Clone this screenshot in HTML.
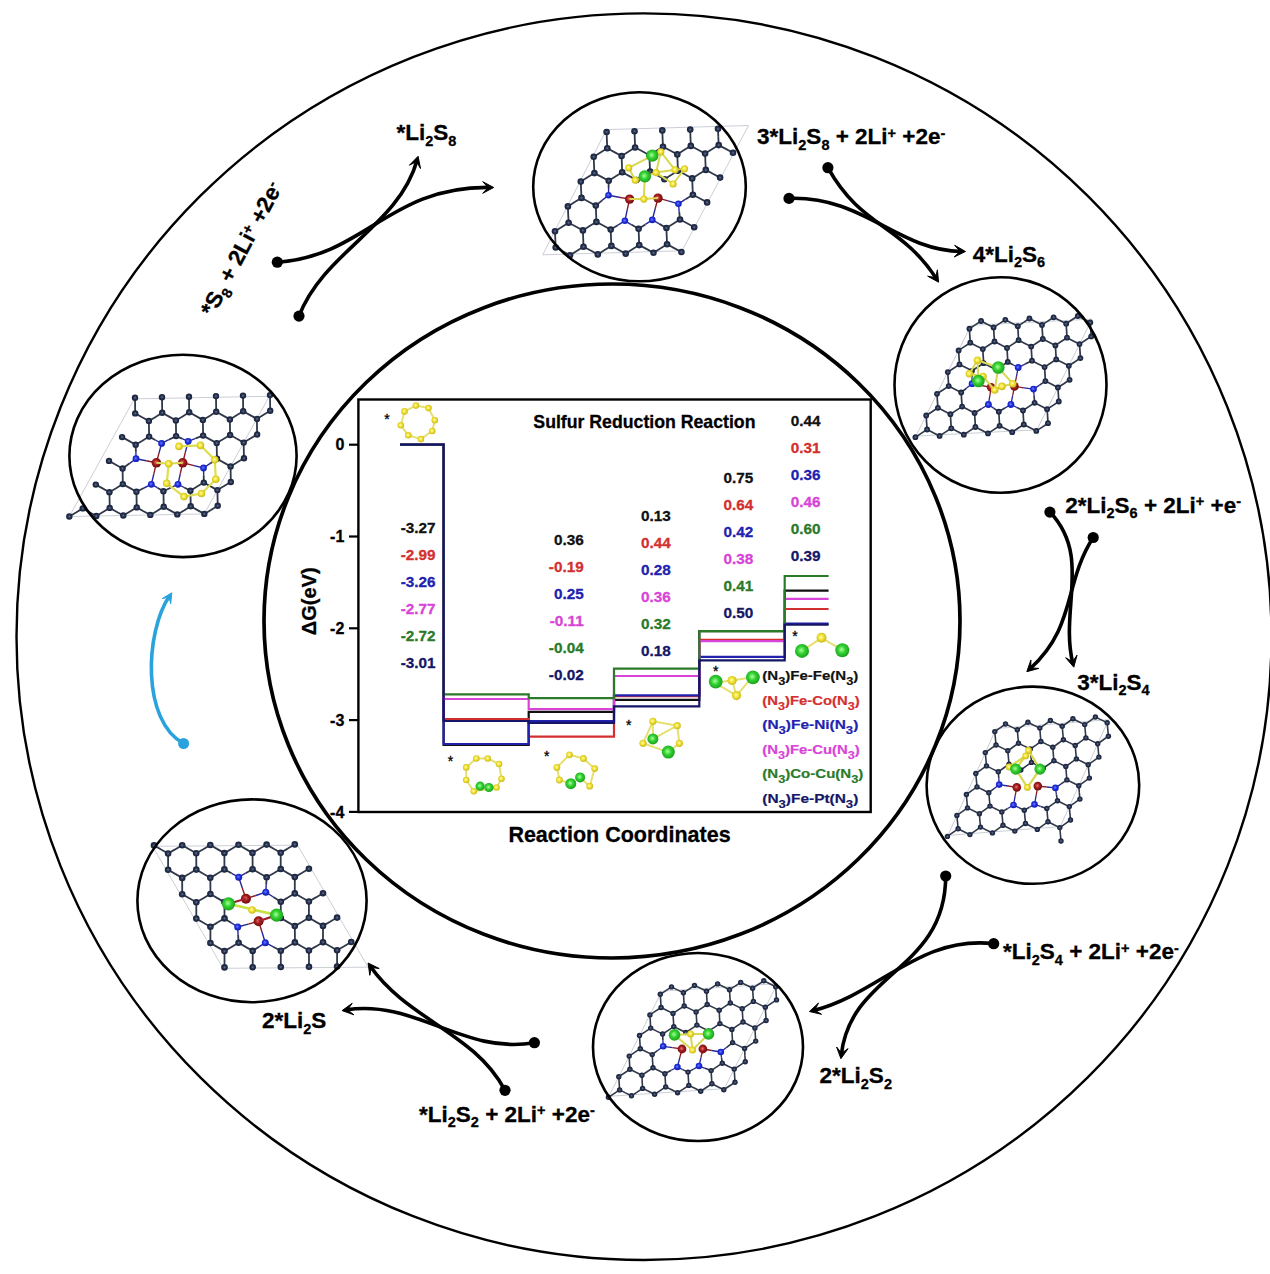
<!DOCTYPE html><html><head><meta charset="utf-8"><style>html,body{margin:0;padding:0;background:#fff;overflow:hidden}svg{display:block}text{font-family:"Liberation Sans", sans-serif;font-weight:bold;stroke:#000;stroke-width:0.3px}</style></head><body>
<svg width="1270" height="1274" viewBox="0 0 1270 1274">
<defs><radialGradient id="gc" cx="0.5" cy="0.5" r="0.5"><stop offset="0" stop-color="#6a7898"/><stop offset="0.45" stop-color="#26324f"/><stop offset="1" stop-color="#18213a"/></radialGradient><radialGradient id="gn" cx="0.45" cy="0.45" r="0.55"><stop offset="0" stop-color="#7080ff"/><stop offset="0.5" stop-color="#1e2ee0"/><stop offset="1" stop-color="#1420a8"/></radialGradient><radialGradient id="gfe" cx="0.45" cy="0.45" r="0.55"><stop offset="0" stop-color="#f07070"/><stop offset="0.5" stop-color="#a01a1a"/><stop offset="1" stop-color="#701010"/></radialGradient><radialGradient id="gli" cx="0.45" cy="0.45" r="0.55"><stop offset="0" stop-color="#a8ff98"/><stop offset="0.5" stop-color="#30d030"/><stop offset="1" stop-color="#1fa01f"/></radialGradient><radialGradient id="gs" cx="0.45" cy="0.45" r="0.55"><stop offset="0" stop-color="#ffffb0"/><stop offset="0.5" stop-color="#f0e030"/><stop offset="1" stop-color="#c8b820"/></radialGradient></defs>
<rect width="1270" height="1274" fill="#fff"/>
<polygon points="606.5,129.6 748.5,125.5 682.0,250.8 542.7,254.8" fill="none" stroke="#c4c8d0" stroke-width="0.9"/>
<path d="M606.6 132.0L606.9 140.1M606.9 140.1L607.3 148.3M593.7 156.8L600.5 152.5M600.5 152.5L607.3 148.3M593.7 156.8L594.0 164.9M594.0 164.9L594.4 173.1M580.8 181.6L587.6 177.3M587.6 177.3L594.4 173.1M580.8 181.6L581.1 189.7M581.1 189.7L581.5 197.9M567.9 206.4L574.7 202.1M574.7 202.1L581.5 197.9M567.9 206.4L568.2 214.5M568.2 214.5L568.6 222.7M555.0 231.2L561.8 226.9M561.8 226.9L568.6 222.7M555.0 231.2L555.3 239.3M555.3 239.3L555.7 247.5M634.5 131.2L634.8 139.3M634.8 139.3L635.1 147.5M621.6 156.0L614.4 152.1M614.4 152.1L607.3 148.3M621.6 156.0L628.3 151.7M628.3 151.7L635.1 147.5M621.6 156.0L621.9 164.1M621.9 164.1L622.2 172.3M608.7 180.8L601.5 176.9M601.5 176.9L594.4 173.1M608.7 180.8L615.4 176.5M615.4 176.5L622.2 172.3M608.7 180.8L608.6 188.1M595.8 205.6L588.6 201.7M588.6 201.7L581.5 197.9M595.8 205.6L602.1 200.4M595.8 205.6L596.1 213.7M596.1 213.7L596.4 221.9M582.9 230.4L575.7 226.5M575.7 226.5L568.6 222.7M582.9 230.4L589.6 226.1M589.6 226.1L596.4 221.9M582.9 230.4L583.2 238.5M583.2 238.5L583.5 246.7M570.0 255.2L562.8 251.3M562.8 251.3L555.7 247.5M570.0 255.2L576.7 250.9M576.7 250.9L583.5 246.7M662.3 130.4L662.6 138.5M662.6 138.5L663.0 146.7M649.4 155.2L642.3 151.3M642.3 151.3L635.1 147.5M649.4 155.2L656.2 150.9M656.2 150.9L663.0 146.7M649.4 155.2L649.7 163.3M649.7 163.3L650.1 171.5M636.5 180.0L629.4 176.1M629.4 176.1L622.2 172.3M636.5 180.0L643.3 175.7M643.3 175.7L650.1 171.5M610.7 229.6L603.6 225.7M603.6 225.7L596.4 221.9M610.7 229.6L617.8 225.2M610.7 229.6L611.0 237.7M611.0 237.7L611.4 245.9M597.8 254.4L590.7 250.5M590.7 250.5L583.5 246.7M597.8 254.4L604.6 250.1M604.6 250.1L611.4 245.9M690.2 129.6L690.5 137.7M690.5 137.7L690.8 145.9M677.3 154.4L670.1 150.5M670.1 150.5L663.0 146.7M677.3 154.4L684.0 150.1M684.0 150.1L690.8 145.9M677.3 154.4L677.6 162.5M677.6 162.5L677.9 170.7M664.4 179.2L657.2 175.3M657.2 175.3L650.1 171.5M664.4 179.2L671.1 174.9M671.1 174.9L677.9 170.7M638.6 228.8L631.7 224.8M638.6 228.8L645.4 224.4M638.6 228.8L638.9 236.9M638.9 236.9L639.2 245.1M625.7 253.6L618.5 249.7M618.5 249.7L611.4 245.9M625.7 253.6L632.4 249.3M632.4 249.3L639.2 245.1M718.0 128.8L718.3 136.9M718.3 136.9L718.7 145.1M705.1 153.6L698.0 149.7M698.0 149.7L690.8 145.9M705.1 153.6L711.9 149.3M711.9 149.3L718.7 145.1M705.1 153.6L705.4 161.7M705.4 161.7L705.8 169.9M692.2 178.4L685.1 174.5M685.1 174.5L677.9 170.7M692.2 178.4L699.0 174.1M699.0 174.1L705.8 169.9M692.2 178.4L692.5 186.5M692.5 186.5L692.9 194.7M685.6 199.2L692.9 194.7M679.2 211.6L680.0 219.5M666.4 228.0L659.3 223.9M666.4 228.0L673.2 223.7M673.2 223.7L680.0 219.5M666.4 228.0L666.7 236.1M666.7 236.1L667.1 244.3M653.5 252.8L646.4 248.9M646.4 248.9L639.2 245.1M653.5 252.8L660.3 248.5M660.3 248.5L667.1 244.3M733.0 152.8L725.8 148.9M725.8 148.9L718.7 145.1M720.1 177.6L712.9 173.7M712.9 173.7L705.8 169.9M707.1 202.4L700.0 198.5M700.0 198.5L692.9 194.7M694.2 227.2L687.1 223.3M687.1 223.3L680.0 219.5M681.4 252.0L674.2 248.1M674.2 248.1L667.1 244.3" stroke="#303849" stroke-width="1.8" fill="none"/>
<path d="M608.6 188.1L608.5 195.3M602.1 200.4L608.5 195.3M617.8 225.2L624.9 220.8M631.7 224.8L624.9 220.8M645.4 224.4L652.3 219.9M678.4 203.8L685.6 199.2M678.4 203.8L679.2 211.6M659.3 223.9L652.3 219.9M619.0 197.2L608.5 195.3M627.2 209.9L624.9 220.8M668.2 200.9L678.4 203.8M655.1 209.0L652.3 219.9" stroke="#24289a" stroke-width="1.4" fill="none"/>
<path d="M629.6 199.1L619.0 197.2M629.6 199.1L627.2 209.9M658.0 198.1L668.2 200.9M658.0 198.1L655.1 209.0" stroke="#8a1c22" stroke-width="1.4" fill="none"/>
<circle cx="606.6" cy="132.0" r="3.3" fill="url(#gc)"/><circle cx="593.7" cy="156.8" r="3.3" fill="url(#gc)"/><circle cx="580.8" cy="181.6" r="3.3" fill="url(#gc)"/><circle cx="567.9" cy="206.4" r="3.3" fill="url(#gc)"/><circle cx="555.0" cy="231.2" r="3.3" fill="url(#gc)"/><circle cx="634.5" cy="131.2" r="3.3" fill="url(#gc)"/><circle cx="621.6" cy="156.0" r="3.3" fill="url(#gc)"/><circle cx="608.7" cy="180.8" r="3.3" fill="url(#gc)"/><circle cx="595.8" cy="205.6" r="3.3" fill="url(#gc)"/><circle cx="582.9" cy="230.4" r="3.3" fill="url(#gc)"/><circle cx="570.0" cy="255.2" r="3.3" fill="url(#gc)"/><circle cx="662.3" cy="130.4" r="3.3" fill="url(#gc)"/><circle cx="649.4" cy="155.2" r="3.3" fill="url(#gc)"/><circle cx="636.5" cy="180.0" r="3.3" fill="url(#gc)"/><circle cx="610.7" cy="229.6" r="3.3" fill="url(#gc)"/><circle cx="597.8" cy="254.4" r="3.3" fill="url(#gc)"/><circle cx="690.2" cy="129.6" r="3.3" fill="url(#gc)"/><circle cx="677.3" cy="154.4" r="3.3" fill="url(#gc)"/><circle cx="664.4" cy="179.2" r="3.3" fill="url(#gc)"/><circle cx="638.6" cy="228.8" r="3.3" fill="url(#gc)"/><circle cx="625.7" cy="253.6" r="3.3" fill="url(#gc)"/><circle cx="718.0" cy="128.8" r="3.3" fill="url(#gc)"/><circle cx="705.1" cy="153.6" r="3.3" fill="url(#gc)"/><circle cx="692.2" cy="178.4" r="3.3" fill="url(#gc)"/><circle cx="666.4" cy="228.0" r="3.3" fill="url(#gc)"/><circle cx="653.5" cy="252.8" r="3.3" fill="url(#gc)"/><circle cx="733.0" cy="152.8" r="3.3" fill="url(#gc)"/><circle cx="720.1" cy="177.6" r="3.3" fill="url(#gc)"/><circle cx="707.1" cy="202.4" r="3.3" fill="url(#gc)"/><circle cx="694.2" cy="227.2" r="3.3" fill="url(#gc)"/><circle cx="681.4" cy="252.0" r="3.3" fill="url(#gc)"/><circle cx="607.3" cy="148.3" r="3.3" fill="url(#gc)"/><circle cx="594.4" cy="173.1" r="3.3" fill="url(#gc)"/><circle cx="581.5" cy="197.9" r="3.3" fill="url(#gc)"/><circle cx="568.6" cy="222.7" r="3.3" fill="url(#gc)"/><circle cx="555.7" cy="247.5" r="3.3" fill="url(#gc)"/><circle cx="635.1" cy="147.5" r="3.3" fill="url(#gc)"/><circle cx="622.2" cy="172.3" r="3.3" fill="url(#gc)"/><circle cx="596.4" cy="221.9" r="3.3" fill="url(#gc)"/><circle cx="583.5" cy="246.7" r="3.3" fill="url(#gc)"/><circle cx="663.0" cy="146.7" r="3.3" fill="url(#gc)"/><circle cx="650.1" cy="171.5" r="3.3" fill="url(#gc)"/><circle cx="611.4" cy="245.9" r="3.3" fill="url(#gc)"/><circle cx="690.8" cy="145.9" r="3.3" fill="url(#gc)"/><circle cx="677.9" cy="170.7" r="3.3" fill="url(#gc)"/><circle cx="639.2" cy="245.1" r="3.3" fill="url(#gc)"/><circle cx="718.7" cy="145.1" r="3.3" fill="url(#gc)"/><circle cx="705.8" cy="169.9" r="3.3" fill="url(#gc)"/><circle cx="692.9" cy="194.7" r="3.3" fill="url(#gc)"/><circle cx="680.0" cy="219.5" r="3.3" fill="url(#gc)"/><circle cx="667.1" cy="244.3" r="3.3" fill="url(#gc)"/><circle cx="678.4" cy="203.8" r="3.3" fill="url(#gn)"/><circle cx="608.5" cy="195.3" r="3.3" fill="url(#gn)"/><circle cx="624.9" cy="220.8" r="3.3" fill="url(#gn)"/><circle cx="652.3" cy="219.9" r="3.3" fill="url(#gn)"/><circle cx="629.6" cy="199.1" r="4.7" fill="url(#gfe)"/><circle cx="658.0" cy="198.1" r="4.7" fill="url(#gfe)"/>
<path d="M629.6 199.1L643.8 199.1M658.0 198.1L643.8 199.1" stroke="#d8d850" stroke-width="2.0" fill="none"/>
<path d="M628.7 167.9L635.3 180.2M635.3 180.2L644.8 176.4M644.8 176.4L656.1 172.6M656.1 172.6L660.8 151.8M660.8 151.8L652.3 155.6M652.3 155.6L628.7 167.9M656.1 172.6L675.0 169.8M675.0 169.8L684.5 168.8M684.5 168.8L673.1 184.0M673.1 184.0L656.1 172.6M660.8 151.8L675.0 169.8M644.8 176.4L643.8 199.1" stroke="#d8d850" stroke-width="2.0" fill="none"/>
<circle cx="660.8" cy="151.8" r="3.6" fill="url(#gs)"/><circle cx="628.7" cy="167.9" r="3.6" fill="url(#gs)"/><circle cx="635.3" cy="180.2" r="3.6" fill="url(#gs)"/><circle cx="656.1" cy="172.6" r="3.6" fill="url(#gs)"/><circle cx="675.0" cy="169.8" r="3.6" fill="url(#gs)"/><circle cx="684.5" cy="168.8" r="3.6" fill="url(#gs)"/><circle cx="673.1" cy="184.0" r="3.6" fill="url(#gs)"/><circle cx="643.8" cy="199.1" r="3.6" fill="url(#gs)"/><circle cx="652.3" cy="155.6" r="6.2" fill="url(#gli)"/><circle cx="644.8" cy="176.4" r="6.2" fill="url(#gli)"/>
<polygon points="971.0,325.4 1092.0,319.1 1036.9,429.8 915.9,436.1" fill="none" stroke="#c4c8d0" stroke-width="0.9"/>
<path d="M969.4 328.7L975.2 324.9M975.2 324.9L981.1 321.0M969.4 328.7L969.8 335.7M969.8 335.7L970.3 342.7M958.6 350.4L964.4 346.6M964.4 346.6L970.3 342.7M958.6 350.4L959.0 357.4M959.0 357.4L959.5 364.4M947.8 372.1L953.6 368.3M953.6 368.3L959.5 364.4M947.8 372.1L948.2 379.1M948.2 379.1L948.7 386.1M937.0 393.8L942.8 390.0M942.8 390.0L948.7 386.1M937.0 393.8L937.4 400.8M937.4 400.8L937.9 407.8M926.2 415.5L932.0 411.7M932.0 411.7L937.9 407.8M926.2 415.5L926.6 422.5M926.6 422.5L927.1 429.5M915.4 437.2L921.2 433.4M921.2 433.4L927.1 429.5M993.6 327.4L987.3 324.2M987.3 324.2L981.1 321.0M993.6 327.4L999.4 323.6M999.4 323.6L1005.3 319.8M993.6 327.4L994.0 334.5M994.0 334.5L994.5 341.5M982.8 349.1L976.5 345.9M976.5 345.9L970.3 342.7M982.8 349.1L988.6 345.3M988.6 345.3L994.5 341.5M982.8 349.1L983.2 356.2M983.2 356.2L983.7 363.2M972.0 370.8L965.7 367.6M965.7 367.6L959.5 364.4M972.0 370.8L977.8 367.0M977.8 367.0L983.7 363.2M972.0 370.8L972.0 377.3M961.2 392.5L954.9 389.3M954.9 389.3L948.7 386.1M961.2 392.5L966.6 388.1M961.2 392.5L961.6 399.6M961.6 399.6L962.1 406.6M950.4 414.2L944.1 411.0M944.1 411.0L937.9 407.8M950.4 414.2L956.2 410.4M956.2 410.4L962.1 406.6M950.4 414.2L950.8 421.3M950.8 421.3L951.3 428.3M939.6 435.9L933.3 432.7M933.3 432.7L927.1 429.5M939.6 435.9L945.4 432.1M945.4 432.1L951.3 428.3M1017.8 326.2L1011.5 323.0M1011.5 323.0L1005.3 319.8M1017.8 326.2L1023.6 322.4M1023.6 322.4L1029.4 318.5M1017.8 326.2L1018.2 333.2M1018.2 333.2L1018.6 340.2M1007.0 347.9L1000.7 344.7M1000.7 344.7L994.5 341.5M1007.0 347.9L1012.8 344.1M1012.8 344.1L1018.6 340.2M1007.0 347.9L1007.4 354.9M1007.4 354.9L1007.8 361.9M996.2 369.6L989.9 366.4M989.9 366.4L983.7 363.2M996.2 369.6L1002.0 365.8M1002.0 365.8L1007.8 361.9M974.6 413.0L968.3 409.8M968.3 409.8L962.1 406.6M974.6 413.0L981.5 408.7M974.6 413.0L975.0 420.0M975.0 420.0L975.4 427.0M963.8 434.7L957.5 431.5M957.5 431.5L951.3 428.3M963.8 434.7L969.6 430.9M969.6 430.9L975.4 427.0M1042.0 324.9L1035.7 321.7M1035.7 321.7L1029.4 318.5M1042.0 324.9L1047.8 321.1M1047.8 321.1L1053.6 317.3M1042.0 324.9L1042.4 331.9M1042.4 331.9L1042.8 339.0M1031.2 346.6L1024.9 343.4M1024.9 343.4L1018.6 340.2M1031.2 346.6L1037.0 342.8M1037.0 342.8L1042.8 339.0M1031.2 346.6L1031.6 353.6M1031.6 353.6L1032.0 360.7M1013.0 364.7L1007.8 361.9M1025.1 364.1L1032.0 360.7M998.8 411.7L993.6 408.1M998.8 411.7L1004.8 408.1M998.8 411.7L999.2 418.7M999.2 418.7L999.6 425.8M988.0 433.4L981.7 430.2M981.7 430.2L975.4 427.0M988.0 433.4L993.8 429.6M993.8 429.6L999.6 425.8M1066.2 323.7L1059.9 320.5M1059.9 320.5L1053.6 317.3M1066.2 323.7L1072.0 319.8M1072.0 319.8L1077.8 316.0M1066.2 323.7L1066.6 330.7M1066.6 330.7L1067.0 337.7M1055.4 345.4L1049.1 342.2M1049.1 342.2L1042.8 339.0M1055.4 345.4L1061.2 341.5M1061.2 341.5L1067.0 337.7M1055.4 345.4L1055.8 352.4M1055.8 352.4L1056.2 359.4M1044.6 367.1L1038.3 363.9M1038.3 363.9L1032.0 360.7M1044.6 367.1L1050.4 363.2M1050.4 363.2L1056.2 359.4M1044.6 367.1L1045.0 374.1M1045.0 374.1L1045.4 381.1M1039.5 385.1L1045.4 381.1M1034.1 396.0L1034.6 402.8M1023.0 410.5L1016.9 407.5M1023.0 410.5L1028.8 406.6M1028.8 406.6L1034.6 402.8M1023.0 410.5L1023.4 417.5M1023.4 417.5L1023.8 424.5M1012.2 432.2L1005.9 429.0M1005.9 429.0L999.6 425.8M1012.2 432.2L1018.0 428.3M1018.0 428.3L1023.8 424.5M1090.3 322.4L1084.1 319.2M1084.1 319.2L1077.8 316.0M1090.3 322.4L1090.8 329.4M1090.8 329.4L1091.2 336.4M1079.5 344.1L1073.3 340.9M1073.3 340.9L1067.0 337.7M1079.5 344.1L1085.4 340.3M1085.4 340.3L1091.2 336.4M1079.5 344.1L1080.0 351.1M1080.0 351.1L1080.4 358.1M1068.8 365.8L1062.5 362.6M1062.5 362.6L1056.2 359.4M1068.8 365.8L1074.6 362.0M1074.6 362.0L1080.4 358.1M1068.8 365.8L1069.2 372.8M1069.2 372.8L1069.6 379.8M1057.9 387.5L1051.7 384.3M1051.7 384.3L1045.4 381.1M1057.9 387.5L1063.8 383.7M1063.8 383.7L1069.6 379.8M1057.9 387.5L1058.4 394.5M1058.4 394.5L1058.8 401.5M1047.1 409.2L1040.9 406.0M1040.9 406.0L1034.6 402.8M1047.1 409.2L1053.0 405.4M1053.0 405.4L1058.8 401.5M1047.1 409.2L1047.6 416.2M1047.6 416.2L1048.0 423.2M1036.3 430.9L1030.1 427.7M1030.1 427.7L1023.8 424.5M1036.3 430.9L1042.2 427.1M1042.2 427.1L1048.0 423.2" stroke="#303849" stroke-width="1.7" fill="none"/>
<path d="M972.0 377.3L972.1 383.7M966.6 388.1L972.1 383.7M981.5 408.7L988.4 404.5M1018.2 367.5L1013.0 364.7M1018.2 367.5L1025.1 364.1M993.6 408.1L988.4 404.5M1004.8 408.1L1010.9 404.5M1033.5 389.1L1039.5 385.1M1033.5 389.1L1034.1 396.0M1016.9 407.5L1010.9 404.5M981.6 385.5L972.1 383.7M989.8 395.9L988.4 404.5M1016.4 376.9L1018.2 367.5M1024.0 387.8L1033.5 389.1M1012.7 395.4L1010.9 404.5" stroke="#24289a" stroke-width="1.3" fill="none"/>
<path d="M991.1 387.3L981.6 385.5M991.1 387.3L989.8 395.9M1014.5 386.4L1016.4 376.9M1014.5 386.4L1024.0 387.8M1014.5 386.4L1012.7 395.4" stroke="#8a1c22" stroke-width="1.3" fill="none"/>
<circle cx="969.4" cy="328.7" r="2.9" fill="url(#gc)"/><circle cx="958.6" cy="350.4" r="2.9" fill="url(#gc)"/><circle cx="947.8" cy="372.1" r="2.9" fill="url(#gc)"/><circle cx="937.0" cy="393.8" r="2.9" fill="url(#gc)"/><circle cx="926.2" cy="415.5" r="2.9" fill="url(#gc)"/><circle cx="915.4" cy="437.2" r="2.9" fill="url(#gc)"/><circle cx="993.6" cy="327.4" r="2.9" fill="url(#gc)"/><circle cx="982.8" cy="349.1" r="2.9" fill="url(#gc)"/><circle cx="972.0" cy="370.8" r="2.9" fill="url(#gc)"/><circle cx="961.2" cy="392.5" r="2.9" fill="url(#gc)"/><circle cx="950.4" cy="414.2" r="2.9" fill="url(#gc)"/><circle cx="939.6" cy="435.9" r="2.9" fill="url(#gc)"/><circle cx="1017.8" cy="326.2" r="2.9" fill="url(#gc)"/><circle cx="1007.0" cy="347.9" r="2.9" fill="url(#gc)"/><circle cx="996.2" cy="369.6" r="2.9" fill="url(#gc)"/><circle cx="974.6" cy="413.0" r="2.9" fill="url(#gc)"/><circle cx="963.8" cy="434.7" r="2.9" fill="url(#gc)"/><circle cx="1042.0" cy="324.9" r="2.9" fill="url(#gc)"/><circle cx="1031.2" cy="346.6" r="2.9" fill="url(#gc)"/><circle cx="998.8" cy="411.7" r="2.9" fill="url(#gc)"/><circle cx="988.0" cy="433.4" r="2.9" fill="url(#gc)"/><circle cx="1066.2" cy="323.7" r="2.9" fill="url(#gc)"/><circle cx="1055.4" cy="345.4" r="2.9" fill="url(#gc)"/><circle cx="1044.6" cy="367.1" r="2.9" fill="url(#gc)"/><circle cx="1023.0" cy="410.5" r="2.9" fill="url(#gc)"/><circle cx="1012.2" cy="432.2" r="2.9" fill="url(#gc)"/><circle cx="1090.3" cy="322.4" r="2.9" fill="url(#gc)"/><circle cx="1079.5" cy="344.1" r="2.9" fill="url(#gc)"/><circle cx="1068.8" cy="365.8" r="2.9" fill="url(#gc)"/><circle cx="1057.9" cy="387.5" r="2.9" fill="url(#gc)"/><circle cx="1047.1" cy="409.2" r="2.9" fill="url(#gc)"/><circle cx="1036.3" cy="430.9" r="2.9" fill="url(#gc)"/><circle cx="981.1" cy="321.0" r="2.9" fill="url(#gc)"/><circle cx="970.3" cy="342.7" r="2.9" fill="url(#gc)"/><circle cx="959.5" cy="364.4" r="2.9" fill="url(#gc)"/><circle cx="948.7" cy="386.1" r="2.9" fill="url(#gc)"/><circle cx="937.9" cy="407.8" r="2.9" fill="url(#gc)"/><circle cx="927.1" cy="429.5" r="2.9" fill="url(#gc)"/><circle cx="1005.3" cy="319.8" r="2.9" fill="url(#gc)"/><circle cx="994.5" cy="341.5" r="2.9" fill="url(#gc)"/><circle cx="983.7" cy="363.2" r="2.9" fill="url(#gc)"/><circle cx="962.1" cy="406.6" r="2.9" fill="url(#gc)"/><circle cx="951.3" cy="428.3" r="2.9" fill="url(#gc)"/><circle cx="1029.4" cy="318.5" r="2.9" fill="url(#gc)"/><circle cx="1018.6" cy="340.2" r="2.9" fill="url(#gc)"/><circle cx="1007.8" cy="361.9" r="2.9" fill="url(#gc)"/><circle cx="975.4" cy="427.0" r="2.9" fill="url(#gc)"/><circle cx="1053.6" cy="317.3" r="2.9" fill="url(#gc)"/><circle cx="1042.8" cy="339.0" r="2.9" fill="url(#gc)"/><circle cx="1032.0" cy="360.7" r="2.9" fill="url(#gc)"/><circle cx="999.6" cy="425.8" r="2.9" fill="url(#gc)"/><circle cx="1077.8" cy="316.0" r="2.9" fill="url(#gc)"/><circle cx="1067.0" cy="337.7" r="2.9" fill="url(#gc)"/><circle cx="1056.2" cy="359.4" r="2.9" fill="url(#gc)"/><circle cx="1045.4" cy="381.1" r="2.9" fill="url(#gc)"/><circle cx="1034.6" cy="402.8" r="2.9" fill="url(#gc)"/><circle cx="1023.8" cy="424.5" r="2.9" fill="url(#gc)"/><circle cx="1091.2" cy="336.4" r="2.9" fill="url(#gc)"/><circle cx="1080.4" cy="358.1" r="2.9" fill="url(#gc)"/><circle cx="1069.6" cy="379.8" r="2.9" fill="url(#gc)"/><circle cx="1058.8" cy="401.5" r="2.9" fill="url(#gc)"/><circle cx="1048.0" cy="423.2" r="2.9" fill="url(#gc)"/><circle cx="1018.2" cy="367.5" r="3.4" fill="url(#gn)"/><circle cx="1033.5" cy="389.1" r="3.4" fill="url(#gn)"/><circle cx="972.1" cy="383.7" r="3.4" fill="url(#gn)"/><circle cx="988.4" cy="404.5" r="3.4" fill="url(#gn)"/><circle cx="1010.9" cy="404.5" r="3.4" fill="url(#gn)"/><circle cx="991.1" cy="387.3" r="4.3" fill="url(#gfe)"/><circle cx="1014.5" cy="386.4" r="4.3" fill="url(#gfe)"/>
<path d="M977.5 360.3L969.4 373.8M969.4 373.8L983.0 376.5M977.5 360.3L998.3 367.5M998.3 367.5L1012.7 383.7M983.0 376.5L994.7 390.0M994.7 390.0L1001.9 386.4M1001.9 386.4L1012.7 383.7M998.3 367.5L994.7 390.0M978.4 381.0L977.5 360.3" stroke="#d8d850" stroke-width="2.0" fill="none"/>
<circle cx="977.5" cy="360.3" r="3.8" fill="url(#gs)"/><circle cx="969.4" cy="373.8" r="3.8" fill="url(#gs)"/><circle cx="983.0" cy="376.5" r="3.8" fill="url(#gs)"/><circle cx="994.7" cy="390.0" r="3.8" fill="url(#gs)"/><circle cx="1001.9" cy="386.4" r="3.8" fill="url(#gs)"/><circle cx="1012.7" cy="383.7" r="3.8" fill="url(#gs)"/><circle cx="998.3" cy="367.5" r="6.3" fill="url(#gli)"/><circle cx="978.4" cy="381.0" r="6.3" fill="url(#gli)"/>
<polygon points="996.2,728.5 1108.6,719.7 1060.3,826.6 947.9,835.4" fill="none" stroke="#c4c8d0" stroke-width="0.9"/>
<path d="M994.8 731.6L1000.1 727.8M1000.1 727.8L1005.5 724.0M994.8 731.6L995.4 738.3M995.4 738.3L996.0 745.0M985.3 752.6L990.6 748.8M990.6 748.8L996.0 745.0M985.3 752.6L985.9 759.3M985.9 759.3L986.5 765.9M975.8 773.5L981.2 769.7M981.2 769.7L986.5 765.9M975.8 773.5L976.4 780.2M976.4 780.2L977.0 786.9M966.4 794.5L971.7 790.7M971.7 790.7L977.0 786.9M966.4 794.5L966.9 801.2M966.9 801.2L967.5 807.9M956.9 815.4L962.2 811.7M962.2 811.7L967.5 807.9M956.9 815.4L957.5 822.1M957.5 822.1L958.1 828.8M947.4 836.4L952.7 832.6M952.7 832.6L958.1 828.8M1017.3 729.8L1011.4 726.9M1011.4 726.9L1005.5 724.0M1017.3 729.8L1022.6 726.1M1022.6 726.1L1027.9 722.3M1017.3 729.8L1017.9 736.5M1017.9 736.5L1018.5 743.2M1007.8 750.8L1001.9 747.9M1001.9 747.9L996.0 745.0M1007.8 750.8L1013.1 747.0M1013.1 747.0L1018.5 743.2M1007.8 750.8L1008.4 757.5M1008.4 757.5L1009.0 764.2M998.3 771.8L992.4 768.9M992.4 768.9L986.5 765.9M998.3 771.8L1003.6 768.0M1003.6 768.0L1009.0 764.2M998.3 771.8L998.8 778.2M988.8 792.7L982.9 789.8M982.9 789.8L977.0 786.9M988.8 792.7L994.0 788.7M988.8 792.7L989.4 799.4M989.4 799.4L990.0 806.1M979.4 813.7L973.4 810.8M973.4 810.8L967.5 807.9M979.4 813.7L984.7 809.9M984.7 809.9L990.0 806.1M979.4 813.7L979.9 820.4M979.9 820.4L980.5 827.1M969.9 834.6L964.0 831.7M964.0 831.7L958.1 828.8M969.9 834.6L975.2 830.9M975.2 830.9L980.5 827.1M1039.8 728.1L1033.8 725.2M1033.8 725.2L1027.9 722.3M1039.8 728.1L1045.1 724.3M1045.1 724.3L1050.4 720.5M1039.8 728.1L1040.3 734.8M1040.3 734.8L1040.9 741.5M1030.3 749.0L1024.4 746.1M1024.4 746.1L1018.5 743.2M1030.3 749.0L1035.6 745.3M1035.6 745.3L1040.9 741.5M1030.3 749.0L1030.9 755.7M1030.9 755.7L1031.5 762.4M1020.8 770.0L1014.9 767.1M1014.9 767.1L1009.0 764.2M1020.8 770.0L1026.1 766.2M1026.1 766.2L1031.5 762.4M1001.8 811.9L995.9 809.0M995.9 809.0L990.0 806.1M1001.8 811.9L1007.7 808.5M1001.8 811.9L1002.4 818.6M1002.4 818.6L1003.0 825.3M992.4 832.9L986.4 830.0M986.4 830.0L980.5 827.1M992.4 832.9L997.7 829.1M997.7 829.1L1003.0 825.3M1062.2 726.3L1056.3 723.4M1056.3 723.4L1050.4 720.5M1062.2 726.3L1067.6 722.5M1067.6 722.5L1072.9 718.7M1062.2 726.3L1062.8 733.0M1062.8 733.0L1063.4 739.7M1052.8 747.3L1046.8 744.4M1046.8 744.4L1040.9 741.5M1052.8 747.3L1058.1 743.5M1058.1 743.5L1063.4 739.7M1052.8 747.3L1053.3 754.0M1053.3 754.0L1053.9 760.7M1043.3 768.2L1037.4 765.3M1037.4 765.3L1031.5 762.4M1043.3 768.2L1048.6 764.5M1048.6 764.5L1053.9 760.7M1024.3 810.2L1018.9 807.6M1024.3 810.2L1029.4 807.3M1024.3 810.2L1024.9 816.9M1024.9 816.9L1025.5 823.5M1014.8 831.1L1008.9 828.2M1008.9 828.2L1003.0 825.3M1014.8 831.1L1020.2 827.3M1020.2 827.3L1025.5 823.5M1084.7 724.6L1078.8 721.7M1078.8 721.7L1072.9 718.7M1084.7 724.6L1090.0 720.8M1090.0 720.8L1095.4 717.0M1084.7 724.6L1085.3 731.3M1085.3 731.3L1085.9 737.9M1075.2 745.5L1069.3 742.6M1069.3 742.6L1063.4 739.7M1075.2 745.5L1080.6 741.7M1080.6 741.7L1085.9 737.9M1075.2 745.5L1075.8 752.2M1075.8 752.2L1076.4 758.9M1065.8 766.5L1059.8 763.6M1059.8 763.6L1053.9 760.7M1065.8 766.5L1071.1 762.7M1071.1 762.7L1076.4 758.9M1065.8 766.5L1066.3 773.2M1066.3 773.2L1066.9 779.9M1061.2 783.9L1066.9 779.9M1056.4 794.4L1057.5 800.8M1046.8 808.4L1040.7 806.4M1046.8 808.4L1052.1 804.6M1052.1 804.6L1057.5 800.8M1046.8 808.4L1047.4 815.1M1047.4 815.1L1048.0 821.8M1037.3 829.4L1031.4 826.5M1031.4 826.5L1025.5 823.5M1037.3 829.4L1042.6 825.6M1042.6 825.6L1048.0 821.8M1107.2 722.8L1101.3 719.9M1101.3 719.9L1095.4 717.0M1107.2 722.8L1107.8 729.5M1107.8 729.5L1108.4 736.2M1097.7 743.8L1091.8 740.9M1091.8 740.9L1085.9 737.9M1097.7 743.8L1103.0 740.0M1103.0 740.0L1108.4 736.2M1097.7 743.8L1098.3 750.5M1098.3 750.5L1098.9 757.1M1088.2 764.7L1082.3 761.8M1082.3 761.8L1076.4 758.9M1088.2 764.7L1093.6 760.9M1093.6 760.9L1098.9 757.1M1088.2 764.7L1088.8 771.4M1088.8 771.4L1089.4 778.1M1078.8 785.7L1072.8 782.8M1072.8 782.8L1066.9 779.9M1078.8 785.7L1084.1 781.9M1084.1 781.9L1089.4 778.1M1078.8 785.7L1079.3 792.4M1079.3 792.4L1079.9 799.1M1069.3 806.6L1063.4 803.7M1063.4 803.7L1057.5 800.8M1069.3 806.6L1074.6 802.9M1074.6 802.9L1079.9 799.1M1069.3 806.6L1069.9 813.3M1069.9 813.3L1070.5 820.0M1059.8 827.6L1053.9 824.7M1053.9 824.7L1048.0 821.8M1059.8 827.6L1065.1 823.8M1065.1 823.8L1070.5 820.0M1059.8 827.6L1060.4 834.3M1060.4 834.3L1061.0 841.0" stroke="#303849" stroke-width="1.6" fill="none"/>
<path d="M998.8 778.2L999.2 784.6M994.0 788.7L999.2 784.6M1007.7 808.5L1013.5 805.0M1018.9 807.6L1013.5 805.0M1029.4 807.3L1034.5 804.4M1055.4 787.9L1061.2 783.9M1055.4 787.9L1056.4 794.4M1040.7 806.4L1034.5 804.4M1008.0 786.0L999.2 784.6M1015.1 796.2L1013.5 805.0M1046.6 787.0L1055.4 787.9M1036.2 795.2L1034.5 804.4" stroke="#24289a" stroke-width="1.3" fill="none"/>
<path d="M1016.8 787.4L1008.0 786.0M1016.8 787.4L1015.1 796.2M1037.8 786.1L1046.6 787.0M1037.8 786.1L1036.2 795.2" stroke="#8a1c22" stroke-width="1.3" fill="none"/>
<circle cx="994.8" cy="731.6" r="2.7" fill="url(#gc)"/><circle cx="985.3" cy="752.6" r="2.7" fill="url(#gc)"/><circle cx="975.8" cy="773.5" r="2.7" fill="url(#gc)"/><circle cx="966.4" cy="794.5" r="2.7" fill="url(#gc)"/><circle cx="956.9" cy="815.4" r="2.7" fill="url(#gc)"/><circle cx="947.4" cy="836.4" r="2.7" fill="url(#gc)"/><circle cx="1017.3" cy="729.8" r="2.7" fill="url(#gc)"/><circle cx="1007.8" cy="750.8" r="2.7" fill="url(#gc)"/><circle cx="998.3" cy="771.8" r="2.7" fill="url(#gc)"/><circle cx="988.8" cy="792.7" r="2.7" fill="url(#gc)"/><circle cx="979.4" cy="813.7" r="2.7" fill="url(#gc)"/><circle cx="969.9" cy="834.6" r="2.7" fill="url(#gc)"/><circle cx="1039.8" cy="728.1" r="2.7" fill="url(#gc)"/><circle cx="1030.3" cy="749.0" r="2.7" fill="url(#gc)"/><circle cx="1020.8" cy="770.0" r="2.7" fill="url(#gc)"/><circle cx="1001.8" cy="811.9" r="2.7" fill="url(#gc)"/><circle cx="992.4" cy="832.9" r="2.7" fill="url(#gc)"/><circle cx="1062.2" cy="726.3" r="2.7" fill="url(#gc)"/><circle cx="1052.8" cy="747.3" r="2.7" fill="url(#gc)"/><circle cx="1043.3" cy="768.2" r="2.7" fill="url(#gc)"/><circle cx="1024.3" cy="810.2" r="2.7" fill="url(#gc)"/><circle cx="1014.8" cy="831.1" r="2.7" fill="url(#gc)"/><circle cx="1084.7" cy="724.6" r="2.7" fill="url(#gc)"/><circle cx="1075.2" cy="745.5" r="2.7" fill="url(#gc)"/><circle cx="1065.8" cy="766.5" r="2.7" fill="url(#gc)"/><circle cx="1046.8" cy="808.4" r="2.7" fill="url(#gc)"/><circle cx="1037.3" cy="829.4" r="2.7" fill="url(#gc)"/><circle cx="1107.2" cy="722.8" r="2.7" fill="url(#gc)"/><circle cx="1097.7" cy="743.8" r="2.7" fill="url(#gc)"/><circle cx="1088.2" cy="764.7" r="2.7" fill="url(#gc)"/><circle cx="1078.8" cy="785.7" r="2.7" fill="url(#gc)"/><circle cx="1069.3" cy="806.6" r="2.7" fill="url(#gc)"/><circle cx="1059.8" cy="827.6" r="2.7" fill="url(#gc)"/><circle cx="1005.5" cy="724.0" r="2.7" fill="url(#gc)"/><circle cx="996.0" cy="745.0" r="2.7" fill="url(#gc)"/><circle cx="986.5" cy="765.9" r="2.7" fill="url(#gc)"/><circle cx="977.0" cy="786.9" r="2.7" fill="url(#gc)"/><circle cx="967.5" cy="807.9" r="2.7" fill="url(#gc)"/><circle cx="958.1" cy="828.8" r="2.7" fill="url(#gc)"/><circle cx="1027.9" cy="722.3" r="2.7" fill="url(#gc)"/><circle cx="1018.5" cy="743.2" r="2.7" fill="url(#gc)"/><circle cx="1009.0" cy="764.2" r="2.7" fill="url(#gc)"/><circle cx="990.0" cy="806.1" r="2.7" fill="url(#gc)"/><circle cx="980.5" cy="827.1" r="2.7" fill="url(#gc)"/><circle cx="1050.4" cy="720.5" r="2.7" fill="url(#gc)"/><circle cx="1040.9" cy="741.5" r="2.7" fill="url(#gc)"/><circle cx="1031.5" cy="762.4" r="2.7" fill="url(#gc)"/><circle cx="1003.0" cy="825.3" r="2.7" fill="url(#gc)"/><circle cx="1072.9" cy="718.7" r="2.7" fill="url(#gc)"/><circle cx="1063.4" cy="739.7" r="2.7" fill="url(#gc)"/><circle cx="1053.9" cy="760.7" r="2.7" fill="url(#gc)"/><circle cx="1025.5" cy="823.5" r="2.7" fill="url(#gc)"/><circle cx="1095.4" cy="717.0" r="2.7" fill="url(#gc)"/><circle cx="1085.9" cy="737.9" r="2.7" fill="url(#gc)"/><circle cx="1076.4" cy="758.9" r="2.7" fill="url(#gc)"/><circle cx="1066.9" cy="779.9" r="2.7" fill="url(#gc)"/><circle cx="1057.5" cy="800.8" r="2.7" fill="url(#gc)"/><circle cx="1048.0" cy="821.8" r="2.7" fill="url(#gc)"/><circle cx="1108.4" cy="736.2" r="2.7" fill="url(#gc)"/><circle cx="1098.9" cy="757.1" r="2.7" fill="url(#gc)"/><circle cx="1089.4" cy="778.1" r="2.7" fill="url(#gc)"/><circle cx="1079.9" cy="799.1" r="2.7" fill="url(#gc)"/><circle cx="1070.5" cy="820.0" r="2.7" fill="url(#gc)"/><circle cx="1061.0" cy="841.0" r="2.7" fill="url(#gc)"/><circle cx="1055.4" cy="787.9" r="3.3" fill="url(#gn)"/><circle cx="999.2" cy="784.6" r="3.3" fill="url(#gn)"/><circle cx="1013.5" cy="805.0" r="3.3" fill="url(#gn)"/><circle cx="1034.5" cy="804.4" r="3.3" fill="url(#gn)"/><circle cx="1016.8" cy="787.4" r="4.3" fill="url(#gfe)"/><circle cx="1037.8" cy="786.1" r="4.3" fill="url(#gfe)"/>
<path d="M1015.7 769.1L1027.4 787.4M1040.0 769.1L1027.4 787.4M1015.7 769.1L1025.7 755.9M1025.7 755.9L1028.5 750.4M1028.5 750.4L1040.0 769.1M1009.1 767.0L1025.7 755.9" stroke="#d8d850" stroke-width="2.2" fill="none"/>
<circle cx="1027.4" cy="787.4" r="3.4" fill="url(#gs)"/><circle cx="1025.7" cy="755.9" r="3.4" fill="url(#gs)"/><circle cx="1028.5" cy="750.4" r="3.4" fill="url(#gs)"/><circle cx="1009.1" cy="767.0" r="3.4" fill="url(#gs)"/><circle cx="1015.7" cy="769.1" r="5.6" fill="url(#gli)"/><circle cx="1040.0" cy="769.1" r="5.6" fill="url(#gli)"/>
<polygon points="661.9,991.2 777.3,983.6 724.3,1088.7 608.9,1096.3" fill="none" stroke="#c4c8d0" stroke-width="0.9"/>
<path d="M660.3 994.3L665.9 990.6M665.9 990.6L671.5 986.9M660.3 994.3L660.7 1000.9M660.7 1000.9L661.1 1007.5M649.9 1014.9L655.5 1011.2M655.5 1011.2L661.1 1007.5M649.9 1014.9L650.3 1021.5M650.3 1021.5L650.7 1028.1M639.5 1035.5L645.1 1031.8M645.1 1031.8L650.7 1028.1M639.5 1035.5L639.9 1042.1M639.9 1042.1L640.3 1048.7M629.2 1056.1L634.7 1052.4M634.7 1052.4L640.3 1048.7M629.2 1056.1L629.5 1062.7M629.5 1062.7L629.9 1069.3M618.8 1076.7L624.4 1073.0M624.4 1073.0L629.9 1069.3M618.8 1076.7L619.2 1083.3M619.2 1083.3L619.6 1089.9M608.4 1097.3L614.0 1093.6M614.0 1093.6L619.6 1089.9M683.4 992.8L677.4 989.9M677.4 989.9L671.5 986.9M683.4 992.8L689.0 989.1M689.0 989.1L694.5 985.4M683.4 992.8L683.8 999.4M683.8 999.4L684.2 1006.0M673.0 1013.4L667.0 1010.5M667.0 1010.5L661.1 1007.5M673.0 1013.4L678.6 1009.7M678.6 1009.7L684.2 1006.0M673.0 1013.4L673.4 1020.0M673.4 1020.0L673.8 1026.6M662.6 1034.0L656.7 1031.1M656.7 1031.1L650.7 1028.1M662.6 1034.0L668.2 1030.3M668.2 1030.3L673.8 1026.6M662.6 1034.0L662.9 1040.1M652.2 1054.6L646.3 1051.7M646.3 1051.7L640.3 1048.7M652.2 1054.6L657.7 1050.4M652.2 1054.6L652.6 1061.2M652.6 1061.2L653.0 1067.8M641.9 1075.2L635.9 1072.3M635.9 1072.3L629.9 1069.3M641.9 1075.2L647.4 1071.5M647.4 1071.5L653.0 1067.8M641.9 1075.2L642.2 1081.8M642.2 1081.8L642.6 1088.4M631.5 1095.8L625.5 1092.9M625.5 1092.9L619.6 1089.9M631.5 1095.8L637.1 1092.1M637.1 1092.1L642.6 1088.4M706.5 991.3L700.5 988.3M700.5 988.3L694.5 985.4M706.5 991.3L712.0 987.6M712.0 987.6L717.6 983.9M706.5 991.3L706.8 997.9M706.8 997.9L707.2 1004.5M696.1 1011.9L690.1 1008.9M690.1 1008.9L684.2 1006.0M696.1 1011.9L701.7 1008.2M701.7 1008.2L707.2 1004.5M696.1 1011.9L696.5 1018.5M696.5 1018.5L696.9 1025.1M685.7 1032.5L679.7 1029.5M679.7 1029.5L673.8 1026.6M685.7 1032.5L691.3 1028.8M691.3 1028.8L696.9 1025.1M664.9 1073.7L659.0 1070.7M659.0 1070.7L653.0 1067.8M664.9 1073.7L671.2 1070.3M664.9 1073.7L665.3 1080.3M665.3 1080.3L665.7 1086.9M654.6 1094.3L648.6 1091.3M648.6 1091.3L642.6 1088.4M654.6 1094.3L660.1 1090.6M660.1 1090.6L665.7 1086.9M729.5 989.7L723.6 986.8M723.6 986.8L717.6 983.9M729.5 989.7L735.1 986.1M735.1 986.1L740.7 982.4M729.5 989.7L729.9 996.4M729.9 996.4L730.3 1003.0M719.2 1010.3L713.2 1007.4M713.2 1007.4L707.2 1004.5M719.2 1010.3L724.7 1006.7M724.7 1006.7L730.3 1003.0M719.2 1010.3L719.5 1017.0M719.5 1017.0L719.9 1023.6M708.8 1030.9L702.8 1028.0M702.8 1028.0L696.9 1025.1M708.8 1030.9L714.4 1027.3M714.4 1027.3L719.9 1023.6M688.0 1072.1L682.7 1069.6M688.0 1072.1L693.5 1069.1M688.0 1072.1L688.4 1078.8M688.4 1078.8L688.8 1085.4M677.6 1092.7L671.7 1089.8M671.7 1089.8L665.7 1086.9M677.6 1092.7L683.2 1089.1M683.2 1089.1L688.8 1085.4M752.6 988.2L746.7 985.3M746.7 985.3L740.7 982.4M752.6 988.2L758.2 984.5M758.2 984.5L763.8 980.8M752.6 988.2L753.0 994.8M753.0 994.8L753.4 1001.4M742.2 1008.8L736.3 1005.9M736.3 1005.9L730.3 1003.0M742.2 1008.8L747.8 1005.1M747.8 1005.1L753.4 1001.4M742.2 1008.8L742.6 1015.4M742.6 1015.4L743.0 1022.0M731.9 1029.4L725.9 1026.5M725.9 1026.5L719.9 1023.6M731.9 1029.4L737.4 1025.7M737.4 1025.7L743.0 1022.0M731.9 1029.4L732.2 1036.0M732.2 1036.0L732.6 1042.6M726.7 1047.3L732.6 1042.6M721.5 1057.6L722.3 1063.2M711.1 1070.6L705.0 1068.3M711.1 1070.6L716.7 1066.9M716.7 1066.9L722.3 1063.2M711.1 1070.6L711.5 1077.2M711.5 1077.2L711.9 1083.8M700.7 1091.2L694.8 1088.3M694.8 1088.3L688.8 1085.4M700.7 1091.2L706.3 1087.5M706.3 1087.5L711.9 1083.8M775.7 986.7L769.7 983.8M769.7 983.8L763.8 980.8M775.7 986.7L776.1 993.3M776.1 993.3L776.5 999.9M765.3 1007.3L759.4 1004.4M759.4 1004.4L753.4 1001.4M765.3 1007.3L770.9 1003.6M770.9 1003.6L776.5 999.9M765.3 1007.3L765.7 1013.9M765.7 1013.9L766.1 1020.5M754.9 1027.9L749.0 1025.0M749.0 1025.0L743.0 1022.0M754.9 1027.9L760.5 1024.2M760.5 1024.2L766.1 1020.5M754.9 1027.9L755.3 1034.5M755.3 1034.5L755.7 1041.1M744.6 1048.5L738.6 1045.6M738.6 1045.6L732.6 1042.6M744.6 1048.5L750.1 1044.8M750.1 1044.8L755.7 1041.1M744.6 1048.5L744.9 1055.1M744.9 1055.1L745.3 1061.7M734.2 1069.1L728.2 1066.2M728.2 1066.2L722.3 1063.2M734.2 1069.1L739.8 1065.4M739.8 1065.4L745.3 1061.7M734.2 1069.1L734.6 1075.7M734.6 1075.7L735.0 1082.3M723.8 1089.7L717.8 1086.8M717.8 1086.8L711.9 1083.8M723.8 1089.7L729.4 1086.0M729.4 1086.0L735.0 1082.3" stroke="#303849" stroke-width="1.6" fill="none"/>
<path d="M662.9 1040.1L663.2 1046.3M657.7 1050.4L663.2 1046.3M671.2 1070.3L677.4 1067.0M682.7 1069.6L677.4 1067.0M693.5 1069.1L699.0 1066.0M720.8 1052.0L726.7 1047.3M720.8 1052.0L721.5 1057.6M705.0 1068.3L699.0 1066.0M672.6 1047.7L663.2 1046.3M679.7 1058.0L677.4 1067.0M711.8 1050.5L720.8 1052.0M701.0 1057.5L699.0 1066.0" stroke="#24289a" stroke-width="1.3" fill="none"/>
<path d="M682.0 1049.0L672.6 1047.7M682.0 1049.0L679.7 1058.0M702.9 1049.0L711.8 1050.5M702.9 1049.0L701.0 1057.5" stroke="#8a1c22" stroke-width="1.3" fill="none"/>
<circle cx="660.3" cy="994.3" r="2.7" fill="url(#gc)"/><circle cx="649.9" cy="1014.9" r="2.7" fill="url(#gc)"/><circle cx="639.5" cy="1035.5" r="2.7" fill="url(#gc)"/><circle cx="629.2" cy="1056.1" r="2.7" fill="url(#gc)"/><circle cx="618.8" cy="1076.7" r="2.7" fill="url(#gc)"/><circle cx="608.4" cy="1097.3" r="2.7" fill="url(#gc)"/><circle cx="683.4" cy="992.8" r="2.7" fill="url(#gc)"/><circle cx="673.0" cy="1013.4" r="2.7" fill="url(#gc)"/><circle cx="662.6" cy="1034.0" r="2.7" fill="url(#gc)"/><circle cx="652.2" cy="1054.6" r="2.7" fill="url(#gc)"/><circle cx="641.9" cy="1075.2" r="2.7" fill="url(#gc)"/><circle cx="631.5" cy="1095.8" r="2.7" fill="url(#gc)"/><circle cx="706.5" cy="991.3" r="2.7" fill="url(#gc)"/><circle cx="696.1" cy="1011.9" r="2.7" fill="url(#gc)"/><circle cx="685.7" cy="1032.5" r="2.7" fill="url(#gc)"/><circle cx="664.9" cy="1073.7" r="2.7" fill="url(#gc)"/><circle cx="654.6" cy="1094.3" r="2.7" fill="url(#gc)"/><circle cx="729.5" cy="989.7" r="2.7" fill="url(#gc)"/><circle cx="719.2" cy="1010.3" r="2.7" fill="url(#gc)"/><circle cx="708.8" cy="1030.9" r="2.7" fill="url(#gc)"/><circle cx="688.0" cy="1072.1" r="2.7" fill="url(#gc)"/><circle cx="677.6" cy="1092.7" r="2.7" fill="url(#gc)"/><circle cx="752.6" cy="988.2" r="2.7" fill="url(#gc)"/><circle cx="742.2" cy="1008.8" r="2.7" fill="url(#gc)"/><circle cx="731.9" cy="1029.4" r="2.7" fill="url(#gc)"/><circle cx="711.1" cy="1070.6" r="2.7" fill="url(#gc)"/><circle cx="700.7" cy="1091.2" r="2.7" fill="url(#gc)"/><circle cx="775.7" cy="986.7" r="2.7" fill="url(#gc)"/><circle cx="765.3" cy="1007.3" r="2.7" fill="url(#gc)"/><circle cx="754.9" cy="1027.9" r="2.7" fill="url(#gc)"/><circle cx="744.6" cy="1048.5" r="2.7" fill="url(#gc)"/><circle cx="734.2" cy="1069.1" r="2.7" fill="url(#gc)"/><circle cx="723.8" cy="1089.7" r="2.7" fill="url(#gc)"/><circle cx="671.5" cy="986.9" r="2.7" fill="url(#gc)"/><circle cx="661.1" cy="1007.5" r="2.7" fill="url(#gc)"/><circle cx="650.7" cy="1028.1" r="2.7" fill="url(#gc)"/><circle cx="640.3" cy="1048.7" r="2.7" fill="url(#gc)"/><circle cx="629.9" cy="1069.3" r="2.7" fill="url(#gc)"/><circle cx="619.6" cy="1089.9" r="2.7" fill="url(#gc)"/><circle cx="694.5" cy="985.4" r="2.7" fill="url(#gc)"/><circle cx="684.2" cy="1006.0" r="2.7" fill="url(#gc)"/><circle cx="673.8" cy="1026.6" r="2.7" fill="url(#gc)"/><circle cx="653.0" cy="1067.8" r="2.7" fill="url(#gc)"/><circle cx="642.6" cy="1088.4" r="2.7" fill="url(#gc)"/><circle cx="717.6" cy="983.9" r="2.7" fill="url(#gc)"/><circle cx="707.2" cy="1004.5" r="2.7" fill="url(#gc)"/><circle cx="696.9" cy="1025.1" r="2.7" fill="url(#gc)"/><circle cx="665.7" cy="1086.9" r="2.7" fill="url(#gc)"/><circle cx="740.7" cy="982.4" r="2.7" fill="url(#gc)"/><circle cx="730.3" cy="1003.0" r="2.7" fill="url(#gc)"/><circle cx="719.9" cy="1023.6" r="2.7" fill="url(#gc)"/><circle cx="688.8" cy="1085.4" r="2.7" fill="url(#gc)"/><circle cx="763.8" cy="980.8" r="2.7" fill="url(#gc)"/><circle cx="753.4" cy="1001.4" r="2.7" fill="url(#gc)"/><circle cx="743.0" cy="1022.0" r="2.7" fill="url(#gc)"/><circle cx="732.6" cy="1042.6" r="2.7" fill="url(#gc)"/><circle cx="722.3" cy="1063.2" r="2.7" fill="url(#gc)"/><circle cx="711.9" cy="1083.8" r="2.7" fill="url(#gc)"/><circle cx="776.5" cy="999.9" r="2.7" fill="url(#gc)"/><circle cx="766.1" cy="1020.5" r="2.7" fill="url(#gc)"/><circle cx="755.7" cy="1041.1" r="2.7" fill="url(#gc)"/><circle cx="745.3" cy="1061.7" r="2.7" fill="url(#gc)"/><circle cx="735.0" cy="1082.3" r="2.7" fill="url(#gc)"/><circle cx="720.8" cy="1052.0" r="3.3" fill="url(#gn)"/><circle cx="663.2" cy="1046.3" r="3.3" fill="url(#gn)"/><circle cx="677.4" cy="1067.0" r="3.3" fill="url(#gn)"/><circle cx="699.0" cy="1066.0" r="3.3" fill="url(#gn)"/><circle cx="682.0" cy="1049.0" r="4.4" fill="url(#gfe)"/><circle cx="702.9" cy="1049.0" r="4.4" fill="url(#gfe)"/>
<path d="M674.5 1034.9L690.6 1034.0M690.6 1034.0L708.5 1034.0M690.6 1034.0L692.5 1050.0M674.5 1034.9L692.5 1050.0M708.5 1034.0L692.5 1050.0" stroke="#d8d850" stroke-width="2.0" fill="none"/>
<circle cx="690.6" cy="1034.0" r="3.5" fill="url(#gs)"/><circle cx="692.5" cy="1050.0" r="3.5" fill="url(#gs)"/><circle cx="674.5" cy="1034.9" r="5.8" fill="url(#gli)"/><circle cx="708.5" cy="1034.0" r="5.8" fill="url(#gli)"/>
<polygon points="297.6,845.2 152.6,846.3 223.1,968.3 368.1,967.2" fill="none" stroke="#c4c8d0" stroke-width="0.9"/>
<path d="M280.7 852.7L287.7 848.6M287.7 848.6L294.8 844.4M280.7 852.7L273.7 848.7M273.7 848.7L266.6 844.6M280.7 852.7L280.7 860.9M280.7 860.9L280.7 869.0M294.8 877.1L301.8 873.0M301.8 873.0L308.9 868.8M294.8 877.1L287.8 873.1M287.8 873.1L280.7 869.0M294.8 877.1L294.8 885.3M294.8 885.3L294.8 893.4M308.9 901.5L315.9 897.4M315.9 897.4L323.0 893.2M308.9 901.5L301.9 897.5M301.9 897.5L294.8 893.4M308.9 901.5L308.9 909.7M308.9 909.7L308.9 917.8M323.0 925.9L330.0 921.8M330.0 921.8L337.1 917.6M323.0 925.9L316.0 921.9M316.0 921.9L308.9 917.8M323.0 925.9L323.0 934.1M323.0 934.1L323.0 942.2M337.1 950.3L344.1 946.2M344.1 946.2L351.2 942.0M337.1 950.3L330.1 946.3M330.1 946.3L323.0 942.2M337.1 950.3L337.1 958.5M337.1 958.5L337.1 966.6M252.5 852.9L259.6 848.8M259.6 848.8L266.6 844.6M252.5 852.9L245.5 848.9M245.5 848.9L238.5 844.8M252.5 852.9L252.6 861.1M252.6 861.1L252.6 869.2M266.6 877.3L273.7 873.2M273.7 873.2L280.7 869.0M266.6 877.3L259.6 873.3M259.6 873.3L252.6 869.2M266.6 877.3L266.2 884.8M280.8 901.7L287.8 897.6M287.8 897.6L294.8 893.4M280.8 901.7L273.3 897.0M280.8 901.7L280.8 909.9M280.8 909.9L280.8 918.0M294.8 926.1L301.9 922.0M301.9 922.0L308.9 917.8M294.8 926.1L287.8 922.1M287.8 922.1L280.8 918.0M294.8 926.1L294.9 934.3M294.9 934.3L294.9 942.4M308.9 950.5L316.0 946.4M316.0 946.4L323.0 942.2M308.9 950.5L301.9 946.5M301.9 946.5L294.9 942.4M308.9 950.5L309.0 958.7M309.0 958.7L309.0 966.8M224.4 853.1L231.4 849.0M231.4 849.0L238.5 844.8M224.4 853.1L217.4 849.1M217.4 849.1L210.3 845.0M224.4 853.1L224.4 861.3M224.4 861.3L224.4 869.4M245.6 873.2L252.6 869.2M231.6 873.3L224.4 869.4M280.8 950.7L287.8 946.6M287.8 946.6L294.9 942.4M280.8 950.7L273.0 946.7M280.8 950.7L280.8 958.9M280.8 958.9L280.8 967.0M196.2 853.3L203.3 849.2M203.3 849.2L210.3 845.0M196.2 853.3L189.2 849.3M189.2 849.3L182.2 845.2M196.2 853.3L196.3 861.5M196.3 861.5L196.3 869.6M210.3 877.7L217.4 873.6M217.4 873.6L224.4 869.4M210.3 877.7L203.3 873.7M203.3 873.7L196.3 869.6M210.3 877.7L210.4 885.9M210.4 885.9L210.4 894.0M224.4 902.1L217.4 898.1M217.4 898.1L210.4 894.0M224.4 902.1L224.5 910.3M224.5 910.3L224.5 918.4M231.1 922.7L224.5 918.4M238.1 934.9L238.6 942.8M252.7 950.9L259.0 946.8M252.7 950.9L245.6 946.9M245.6 946.9L238.6 942.8M252.7 950.9L252.7 959.1M252.7 959.1L252.7 967.2M168.1 853.5L175.1 849.4M175.1 849.4L182.2 845.2M168.1 853.5L161.1 849.5M161.1 849.5L154.0 845.4M168.1 853.5L168.1 861.7M168.1 861.7L168.1 869.8M182.2 877.9L189.2 873.8M189.2 873.8L196.3 869.6M182.2 877.9L175.2 873.9M175.2 873.9L168.1 869.8M182.2 877.9L182.2 886.1M182.2 886.1L182.2 894.2M196.3 902.3L203.3 898.2M203.3 898.2L210.4 894.0M196.3 902.3L189.3 898.3M189.3 898.3L182.2 894.2M196.3 902.3L196.3 910.5M196.3 910.5L196.3 918.6M210.4 926.7L217.4 922.6M217.4 922.6L224.5 918.4M210.4 926.7L203.4 922.7M203.4 922.7L196.3 918.6M210.4 926.7L210.4 934.9M210.4 934.9L210.4 943.0M224.5 951.1L231.5 947.0M231.5 947.0L238.6 942.8M224.5 951.1L217.5 947.1M217.5 947.1L210.4 943.0M224.5 951.1L224.5 959.3M224.5 959.3L224.5 967.4" stroke="#303849" stroke-width="1.8" fill="none"/>
<path d="M266.2 884.8L265.8 892.2M273.3 897.0L265.8 892.2M238.7 877.2L245.6 873.2M238.7 877.2L231.6 873.3M273.0 946.7L265.3 942.7M237.7 927.0L231.1 922.7M237.7 927.0L238.1 934.9M259.0 946.8L265.3 942.7M242.3 888.0L238.7 877.2M255.9 895.5L265.8 892.2M248.2 924.1L237.7 927.0M262.0 932.0L265.3 942.7" stroke="#24289a" stroke-width="1.4" fill="none"/>
<path d="M245.9 898.7L242.3 888.0M245.9 898.7L255.9 895.5M258.6 921.2L248.2 924.1M258.6 921.2L262.0 932.0" stroke="#8a1c22" stroke-width="1.4" fill="none"/>
<circle cx="280.7" cy="852.7" r="3.3" fill="url(#gc)"/><circle cx="294.8" cy="877.1" r="3.3" fill="url(#gc)"/><circle cx="308.9" cy="901.5" r="3.3" fill="url(#gc)"/><circle cx="323.0" cy="925.9" r="3.3" fill="url(#gc)"/><circle cx="337.1" cy="950.3" r="3.3" fill="url(#gc)"/><circle cx="252.5" cy="852.9" r="3.3" fill="url(#gc)"/><circle cx="266.6" cy="877.3" r="3.3" fill="url(#gc)"/><circle cx="280.8" cy="901.7" r="3.3" fill="url(#gc)"/><circle cx="294.8" cy="926.1" r="3.3" fill="url(#gc)"/><circle cx="308.9" cy="950.5" r="3.3" fill="url(#gc)"/><circle cx="224.4" cy="853.1" r="3.3" fill="url(#gc)"/><circle cx="280.8" cy="950.7" r="3.3" fill="url(#gc)"/><circle cx="196.2" cy="853.3" r="3.3" fill="url(#gc)"/><circle cx="210.3" cy="877.7" r="3.3" fill="url(#gc)"/><circle cx="224.4" cy="902.1" r="3.3" fill="url(#gc)"/><circle cx="252.7" cy="950.9" r="3.3" fill="url(#gc)"/><circle cx="168.1" cy="853.5" r="3.3" fill="url(#gc)"/><circle cx="182.2" cy="877.9" r="3.3" fill="url(#gc)"/><circle cx="196.3" cy="902.3" r="3.3" fill="url(#gc)"/><circle cx="210.4" cy="926.7" r="3.3" fill="url(#gc)"/><circle cx="224.5" cy="951.1" r="3.3" fill="url(#gc)"/><circle cx="294.8" cy="844.4" r="3.3" fill="url(#gc)"/><circle cx="308.9" cy="868.8" r="3.3" fill="url(#gc)"/><circle cx="323.0" cy="893.2" r="3.3" fill="url(#gc)"/><circle cx="337.1" cy="917.6" r="3.3" fill="url(#gc)"/><circle cx="351.2" cy="942.0" r="3.3" fill="url(#gc)"/><circle cx="266.6" cy="844.6" r="3.3" fill="url(#gc)"/><circle cx="280.7" cy="869.0" r="3.3" fill="url(#gc)"/><circle cx="294.8" cy="893.4" r="3.3" fill="url(#gc)"/><circle cx="308.9" cy="917.8" r="3.3" fill="url(#gc)"/><circle cx="323.0" cy="942.2" r="3.3" fill="url(#gc)"/><circle cx="337.1" cy="966.6" r="3.3" fill="url(#gc)"/><circle cx="238.5" cy="844.8" r="3.3" fill="url(#gc)"/><circle cx="252.6" cy="869.2" r="3.3" fill="url(#gc)"/><circle cx="280.8" cy="918.0" r="3.3" fill="url(#gc)"/><circle cx="294.9" cy="942.4" r="3.3" fill="url(#gc)"/><circle cx="309.0" cy="966.8" r="3.3" fill="url(#gc)"/><circle cx="210.3" cy="845.0" r="3.3" fill="url(#gc)"/><circle cx="224.4" cy="869.4" r="3.3" fill="url(#gc)"/><circle cx="280.8" cy="967.0" r="3.3" fill="url(#gc)"/><circle cx="182.2" cy="845.2" r="3.3" fill="url(#gc)"/><circle cx="196.3" cy="869.6" r="3.3" fill="url(#gc)"/><circle cx="210.4" cy="894.0" r="3.3" fill="url(#gc)"/><circle cx="224.5" cy="918.4" r="3.3" fill="url(#gc)"/><circle cx="238.6" cy="942.8" r="3.3" fill="url(#gc)"/><circle cx="252.7" cy="967.2" r="3.3" fill="url(#gc)"/><circle cx="154.0" cy="845.4" r="3.3" fill="url(#gc)"/><circle cx="168.1" cy="869.8" r="3.3" fill="url(#gc)"/><circle cx="182.2" cy="894.2" r="3.3" fill="url(#gc)"/><circle cx="196.3" cy="918.6" r="3.3" fill="url(#gc)"/><circle cx="210.4" cy="943.0" r="3.3" fill="url(#gc)"/><circle cx="224.5" cy="967.4" r="3.3" fill="url(#gc)"/><circle cx="238.7" cy="877.2" r="3.5" fill="url(#gn)"/><circle cx="237.7" cy="927.0" r="3.5" fill="url(#gn)"/><circle cx="265.8" cy="892.2" r="3.5" fill="url(#gn)"/><circle cx="265.3" cy="942.7" r="3.5" fill="url(#gn)"/><circle cx="245.9" cy="898.7" r="5.0" fill="url(#gfe)"/><circle cx="258.6" cy="921.2" r="5.0" fill="url(#gfe)"/>
<path d="M245.9 898.7L228.5 903.8M258.6 921.2L276.6 915.1" stroke="#a02030" stroke-width="2.2" fill="none"/>
<path d="M228.5 903.8L276.6 915.1" stroke="#c8e040" stroke-width="2.6" fill="none"/>
<circle cx="252.0" cy="910.0" r="3.8" fill="url(#gs)"/><circle cx="228.5" cy="903.8" r="6.6" fill="url(#gli)"/><circle cx="276.6" cy="915.1" r="6.6" fill="url(#gli)"/>
<polygon points="134.3,398.9 269.3,396.3 204.3,513.9 69.3,516.5" fill="none" stroke="#c4c8d0" stroke-width="0.9"/>
<path d="M135.0 397.7L135.1 405.5M135.1 405.5L135.2 413.4M69.3 516.5L76.0 512.5M76.0 512.5L82.7 508.4M162.0 397.2L162.1 405.0M162.1 405.0L162.2 412.8M148.9 420.9L142.1 417.2M142.1 417.2L135.2 413.4M148.9 420.9L155.6 416.9M155.6 416.9L162.2 412.8M148.9 420.9L149.0 428.8M149.0 428.8L149.1 436.6M135.7 444.7L128.9 440.9M128.9 440.9L122.1 437.1M135.7 444.7L142.4 440.7M142.4 440.7L149.1 436.6M135.7 444.7L135.9 451.7M122.6 468.5L115.8 464.7M115.8 464.7L109.0 460.9M122.6 468.5L129.3 463.6M122.6 468.5L122.7 476.3M122.7 476.3L122.8 484.1M109.4 492.2L102.6 488.4M102.6 488.4L95.8 484.6M109.4 492.2L116.1 488.2M116.1 488.2L122.8 484.1M109.4 492.2L109.6 500.1M109.6 500.1L109.7 507.9M96.3 516.0L89.5 512.2M89.5 512.2L82.7 508.4M96.3 516.0L103.0 511.9M103.0 511.9L109.7 507.9M189.0 396.7L189.1 404.5M189.1 404.5L189.2 412.3M175.9 420.4L169.1 416.6M169.1 416.6L162.2 412.8M175.9 420.4L182.6 416.4M182.6 416.4L189.2 412.3M175.9 420.4L176.0 428.3M176.0 428.3L176.1 436.1M155.3 440.0L149.1 436.6M168.8 439.7L176.1 436.1M136.4 491.7L129.6 487.9M129.6 487.9L122.8 484.1M136.4 491.7L143.9 488.0M136.4 491.7L136.6 499.5M136.6 499.5L136.7 507.4M123.3 515.5L116.5 511.7M116.5 511.7L109.7 507.9M123.3 515.5L130.0 511.4M130.0 511.4L136.7 507.4M216.0 396.1L216.1 404.0M216.1 404.0L216.2 411.8M202.9 419.9L196.1 416.1M196.1 416.1L189.2 412.3M202.9 419.9L209.6 415.9M209.6 415.9L216.2 411.8M202.9 419.9L203.0 427.7M203.0 427.7L203.1 435.6M182.1 438.7L176.1 436.1M195.6 438.4L203.1 435.6M163.4 491.2L157.4 487.7M163.4 491.2L170.7 487.7M163.4 491.2L163.6 499.0M163.6 499.0L163.7 506.8M150.3 514.9L143.5 511.2M143.5 511.2L136.7 507.4M150.3 514.9L157.0 510.9M157.0 510.9L163.7 506.8M243.0 395.6L243.1 403.5M243.1 403.5L243.2 411.3M229.9 419.4L223.1 415.6M223.1 415.6L216.2 411.8M229.9 419.4L236.6 415.3M236.6 415.3L243.2 411.3M229.9 419.4L230.0 427.2M230.0 427.2L230.1 435.0M216.7 443.1L209.9 439.4M209.9 439.4L203.1 435.6M216.7 443.1L223.4 439.1M223.4 439.1L230.1 435.0M216.7 443.1L216.8 451.0M216.8 451.0L217.0 458.8M210.2 463.4L217.0 458.8M203.7 475.3L203.8 482.6M190.4 490.7L184.2 487.5M190.4 490.7L197.1 486.6M197.1 486.6L203.8 482.6M190.4 490.7L190.6 498.5M190.6 498.5L190.7 506.3M177.3 514.4L170.5 510.6M170.5 510.6L163.7 506.8M177.3 514.4L184.0 510.4M184.0 510.4L190.7 506.3M270.0 395.1L270.1 402.9M270.1 402.9L270.2 410.8M256.9 418.9L250.1 415.1M250.1 415.1L243.2 411.3M256.9 418.9L263.6 414.8M263.6 414.8L270.2 410.8M256.9 418.9L257.0 426.7M257.0 426.7L257.1 434.5M243.7 442.6L236.9 438.8M236.9 438.8L230.1 435.0M243.7 442.6L250.4 438.6M250.4 438.6L257.1 434.5M243.7 442.6L243.8 450.5M243.8 450.5L244.0 458.3M230.6 466.4L223.8 462.6M223.8 462.6L217.0 458.8M230.6 466.4L237.3 462.3M237.3 462.3L244.0 458.3M230.6 466.4L230.7 474.2M230.7 474.2L230.8 482.0M217.4 490.1L210.6 486.4M210.6 486.4L203.8 482.6M217.4 490.1L224.1 486.1M224.1 486.1L230.8 482.0M217.4 490.1L217.6 498.0M217.6 498.0L217.7 505.8M204.3 513.9L197.5 510.1M197.5 510.1L190.7 506.3M204.3 513.9L211.0 509.9M211.0 509.9L217.7 505.8" stroke="#303849" stroke-width="1.8" fill="none"/>
<path d="M135.9 451.7L136.0 458.7M129.3 463.6L136.0 458.7M161.6 443.4L155.3 440.0M161.6 443.4L168.8 439.7M143.9 488.0L151.3 484.3M188.2 441.3L182.1 438.7M188.2 441.3L195.6 438.4M157.4 487.7L151.3 484.3M170.7 487.7L178.0 484.3M203.5 468.0L210.2 463.4M203.5 468.0L203.7 475.3M184.2 487.5L178.0 484.3M159.0 453.1L161.6 443.4M146.2 460.8L136.0 458.7M153.9 473.6L151.3 484.3M185.4 452.1L188.2 441.3M193.1 465.4L203.5 468.0M180.3 473.6L178.0 484.3" stroke="#24289a" stroke-width="1.4" fill="none"/>
<path d="M156.4 462.8L159.0 453.1M156.4 462.8L146.2 460.8M156.4 462.8L153.9 473.6M182.7 462.8L185.4 452.1M182.7 462.8L193.1 465.4M182.7 462.8L180.3 473.6" stroke="#8a1c22" stroke-width="1.4" fill="none"/>
<circle cx="135.0" cy="397.7" r="3.2" fill="url(#gc)"/><circle cx="69.3" cy="516.5" r="3.2" fill="url(#gc)"/><circle cx="162.0" cy="397.2" r="3.2" fill="url(#gc)"/><circle cx="148.9" cy="420.9" r="3.2" fill="url(#gc)"/><circle cx="135.7" cy="444.7" r="3.2" fill="url(#gc)"/><circle cx="122.6" cy="468.5" r="3.2" fill="url(#gc)"/><circle cx="109.4" cy="492.2" r="3.2" fill="url(#gc)"/><circle cx="96.3" cy="516.0" r="3.2" fill="url(#gc)"/><circle cx="189.0" cy="396.7" r="3.2" fill="url(#gc)"/><circle cx="175.9" cy="420.4" r="3.2" fill="url(#gc)"/><circle cx="136.4" cy="491.7" r="3.2" fill="url(#gc)"/><circle cx="123.3" cy="515.5" r="3.2" fill="url(#gc)"/><circle cx="216.0" cy="396.1" r="3.2" fill="url(#gc)"/><circle cx="202.9" cy="419.9" r="3.2" fill="url(#gc)"/><circle cx="163.4" cy="491.2" r="3.2" fill="url(#gc)"/><circle cx="150.3" cy="514.9" r="3.2" fill="url(#gc)"/><circle cx="243.0" cy="395.6" r="3.2" fill="url(#gc)"/><circle cx="229.9" cy="419.4" r="3.2" fill="url(#gc)"/><circle cx="216.7" cy="443.1" r="3.2" fill="url(#gc)"/><circle cx="190.4" cy="490.7" r="3.2" fill="url(#gc)"/><circle cx="177.3" cy="514.4" r="3.2" fill="url(#gc)"/><circle cx="270.0" cy="395.1" r="3.2" fill="url(#gc)"/><circle cx="256.9" cy="418.9" r="3.2" fill="url(#gc)"/><circle cx="243.7" cy="442.6" r="3.2" fill="url(#gc)"/><circle cx="230.6" cy="466.4" r="3.2" fill="url(#gc)"/><circle cx="217.4" cy="490.1" r="3.2" fill="url(#gc)"/><circle cx="204.3" cy="513.9" r="3.2" fill="url(#gc)"/><circle cx="135.2" cy="413.4" r="3.2" fill="url(#gc)"/><circle cx="122.1" cy="437.1" r="3.2" fill="url(#gc)"/><circle cx="109.0" cy="460.9" r="3.2" fill="url(#gc)"/><circle cx="95.8" cy="484.6" r="3.2" fill="url(#gc)"/><circle cx="82.7" cy="508.4" r="3.2" fill="url(#gc)"/><circle cx="162.2" cy="412.8" r="3.2" fill="url(#gc)"/><circle cx="149.1" cy="436.6" r="3.2" fill="url(#gc)"/><circle cx="122.8" cy="484.1" r="3.2" fill="url(#gc)"/><circle cx="109.7" cy="507.9" r="3.2" fill="url(#gc)"/><circle cx="189.2" cy="412.3" r="3.2" fill="url(#gc)"/><circle cx="176.1" cy="436.1" r="3.2" fill="url(#gc)"/><circle cx="136.7" cy="507.4" r="3.2" fill="url(#gc)"/><circle cx="216.2" cy="411.8" r="3.2" fill="url(#gc)"/><circle cx="203.1" cy="435.6" r="3.2" fill="url(#gc)"/><circle cx="163.7" cy="506.8" r="3.2" fill="url(#gc)"/><circle cx="243.2" cy="411.3" r="3.2" fill="url(#gc)"/><circle cx="230.1" cy="435.0" r="3.2" fill="url(#gc)"/><circle cx="217.0" cy="458.8" r="3.2" fill="url(#gc)"/><circle cx="203.8" cy="482.6" r="3.2" fill="url(#gc)"/><circle cx="190.7" cy="506.3" r="3.2" fill="url(#gc)"/><circle cx="270.2" cy="410.8" r="3.2" fill="url(#gc)"/><circle cx="257.1" cy="434.5" r="3.2" fill="url(#gc)"/><circle cx="244.0" cy="458.3" r="3.2" fill="url(#gc)"/><circle cx="230.8" cy="482.0" r="3.2" fill="url(#gc)"/><circle cx="217.7" cy="505.8" r="3.2" fill="url(#gc)"/><circle cx="161.6" cy="443.4" r="3.4" fill="url(#gn)"/><circle cx="188.2" cy="441.3" r="3.4" fill="url(#gn)"/><circle cx="203.5" cy="468.0" r="3.4" fill="url(#gn)"/><circle cx="136.0" cy="458.7" r="3.4" fill="url(#gn)"/><circle cx="151.3" cy="484.3" r="3.4" fill="url(#gn)"/><circle cx="178.0" cy="484.3" r="3.4" fill="url(#gn)"/><circle cx="156.4" cy="462.8" r="4.8" fill="url(#gfe)"/><circle cx="182.7" cy="462.8" r="4.8" fill="url(#gfe)"/>
<path d="M156.4 462.8L168.7 463.8M182.7 462.8L168.7 463.8" stroke="#d8d850" stroke-width="2.0" fill="none"/>
<path d="M179.0 446.4L200.5 445.4M200.5 445.4L214.8 459.8M214.8 459.8L215.8 479.2M215.8 479.2L201.5 493.5M201.5 493.5L184.0 496.6M184.0 496.6L166.7 483.3M166.7 483.3L168.7 463.8" stroke="#dede50" stroke-width="2.2" fill="none"/>
<circle cx="179.0" cy="446.4" r="3.8" fill="url(#gs)"/><circle cx="200.5" cy="445.4" r="3.8" fill="url(#gs)"/><circle cx="214.8" cy="459.8" r="3.8" fill="url(#gs)"/><circle cx="215.8" cy="479.2" r="3.8" fill="url(#gs)"/><circle cx="201.5" cy="493.5" r="3.8" fill="url(#gs)"/><circle cx="184.0" cy="496.6" r="3.8" fill="url(#gs)"/><circle cx="166.7" cy="483.3" r="3.8" fill="url(#gs)"/><circle cx="168.7" cy="463.8" r="3.8" fill="url(#gs)"/>
<ellipse cx="644" cy="636.7" rx="627.5" ry="623.3" fill="none" stroke="#000" stroke-width="2.4"/>
<ellipse cx="612" cy="621" rx="348" ry="337" fill="none" stroke="#000" stroke-width="3.7"/>
<ellipse cx="639.5" cy="186.8" rx="106.3" ry="94.5" fill="none" stroke="#000" stroke-width="2.6"/>
<ellipse cx="1000.5" cy="385.0" rx="106.0" ry="107.8" fill="none" stroke="#000" stroke-width="2.6"/>
<ellipse cx="1032.9" cy="785.2" rx="106.3" ry="98.6" fill="none" stroke="#000" stroke-width="2.6"/>
<ellipse cx="698.0" cy="1047.0" rx="105.0" ry="94.0" fill="none" stroke="#000" stroke-width="2.6"/>
<ellipse cx="252.0" cy="900.8" rx="114.6" ry="101.4" fill="none" stroke="#000" stroke-width="2.6"/>
<ellipse cx="183.0" cy="455.9" rx="113.6" ry="101.2" fill="none" stroke="#000" stroke-width="2.6"/>
<path d="M277.3 262.2C365.2 256.3 388.5 186.2 489.7 187.4" fill="none" stroke="#000" stroke-width="3.6"/><path d="M493.7 187.5L482.7 193.3L488.2 187.5L482.7 181.7Z" fill="#000" stroke="#000" stroke-width="1" stroke-linejoin="round"/><circle cx="277.3" cy="262.2" r="5.6" fill="#000"/>
<path d="M299.0 316.1C323.8 251.6 398.4 226.4 417.1 160.2" fill="none" stroke="#000" stroke-width="3.6"/><path d="M418.1 156.3L420.5 168.5L416.5 161.6L409.4 165.2Z" fill="#000" stroke="#000" stroke-width="1" stroke-linejoin="round"/><circle cx="299.0" cy="316.1" r="5.6" fill="#000"/>
<path d="M789.0 198.4C864.1 195.8 896.1 250.2 961.5 251.5" fill="none" stroke="#000" stroke-width="3.6"/><path d="M965.5 251.5L954.3 256.9L960.0 251.3L954.7 245.3Z" fill="#000" stroke="#000" stroke-width="1" stroke-linejoin="round"/><circle cx="789.0" cy="198.4" r="5.6" fill="#000"/>
<path d="M827.9 167.7C861.1 228.0 901.3 224.2 936.5 278.8" fill="none" stroke="#000" stroke-width="3.6"/><path d="M938.6 282.2L927.7 276.2L935.6 277.6L937.4 269.8Z" fill="#000" stroke="#000" stroke-width="1" stroke-linejoin="round"/><circle cx="827.9" cy="167.7" r="5.6" fill="#000"/>
<path d="M1049.9 512.1C1091.8 556.2 1059.6 609.5 1072.8 663.3" fill="none" stroke="#000" stroke-width="3.6"/><path d="M1073.8 667.2L1065.7 657.7L1072.6 661.8L1077.0 655.2Z" fill="#000" stroke="#000" stroke-width="1" stroke-linejoin="round"/><circle cx="1049.9" cy="512.1" r="5.6" fill="#000"/>
<path d="M1093.2 537.5C1063.2 584.1 1076.7 626.4 1029.8 669.0" fill="none" stroke="#000" stroke-width="3.6"/><path d="M1026.8 671.7L1030.9 660.0L1030.8 667.9L1038.8 668.4Z" fill="#000" stroke="#000" stroke-width="1" stroke-linejoin="round"/><circle cx="1093.2" cy="537.5" r="5.6" fill="#000"/>
<path d="M945.7 876.0C945.6 971.3 850.9 971.3 841.3 1054.7" fill="none" stroke="#000" stroke-width="3.6"/><path d="M840.9 1058.7L836.6 1047.0L841.6 1053.2L848.1 1048.6Z" fill="#000" stroke="#000" stroke-width="1" stroke-linejoin="round"/><circle cx="945.7" cy="876.0" r="5.6" fill="#000"/>
<path d="M993.7 943.7C919.8 935.1 879.1 994.0 813.4 1010.6" fill="none" stroke="#000" stroke-width="3.6"/><path d="M809.4 1011.5L818.5 1003.1L814.7 1010.1L821.5 1014.3Z" fill="#000" stroke="#000" stroke-width="1" stroke-linejoin="round"/><circle cx="993.7" cy="943.7" r="5.6" fill="#000"/>
<path d="M534.4 1042.7C462.9 1055.1 416.1 998.9 346.1 1009.9" fill="none" stroke="#000" stroke-width="3.6"/><path d="M342.1 1010.6L352.2 1003.3L347.5 1009.8L353.8 1014.8Z" fill="#000" stroke="#000" stroke-width="1" stroke-linejoin="round"/><circle cx="534.4" cy="1042.7" r="5.6" fill="#000"/>
<path d="M505.0 1090.3C474.0 1032.4 407.6 1019.7 370.3 966.3" fill="none" stroke="#000" stroke-width="3.6"/><path d="M368.1 963.0L379.2 968.5L371.3 967.5L369.8 975.3Z" fill="#000" stroke="#000" stroke-width="1" stroke-linejoin="round"/><circle cx="505.0" cy="1090.3" r="5.6" fill="#000"/>
<path d="M183.6 743.5C141.6 721.1 144.7 632.6 169.7 595.6" fill="none" stroke="#2aa3dc" stroke-width="3.6"/><path d="M171.8 592.8L170.7 603.9L169.1 597.0L162.2 598.6Z" fill="#2aa3dc" stroke="#2aa3dc" stroke-width="1" stroke-linejoin="round"/><circle cx="183.6" cy="743.5" r="5.5" fill="#2aa3dc"/>
<text x="396.5" y="140.4" font-size="22.5"><tspan dy="0.0" font-size="22.5">*</tspan><tspan dy="0.0" font-size="22.5">Li</tspan><tspan dy="5.5" font-size="14.5">2</tspan><tspan dy="-5.5" font-size="22.5">S</tspan><tspan dy="5.5" font-size="14.5">8</tspan></text>
<text x="757.0" y="144.4" font-size="22.5"><tspan dy="0.0" font-size="22.5">3</tspan><tspan dy="0.0" font-size="22.5">*</tspan><tspan dy="0.0" font-size="22.5">Li</tspan><tspan dy="5.5" font-size="14.5">2</tspan><tspan dy="-5.5" font-size="22.5">S</tspan><tspan dy="5.5" font-size="14.5">8</tspan><tspan dy="-5.5" font-size="22.5"> + 2Li</tspan><tspan dy="-6.5" font-size="14.5">+</tspan><tspan dy="6.5" font-size="22.5"> +2e</tspan><tspan dy="-6.5" font-size="14.5">-</tspan></text>
<text x="972.7" y="261.5" font-size="22.5"><tspan dy="0.0" font-size="22.5">4</tspan><tspan dy="0.0" font-size="22.5">*</tspan><tspan dy="0.0" font-size="22.5">Li</tspan><tspan dy="5.5" font-size="14.5">2</tspan><tspan dy="-5.5" font-size="22.5">S</tspan><tspan dy="5.5" font-size="14.5">6</tspan></text>
<text x="1065.2" y="512.7" font-size="22.5"><tspan dy="0.0" font-size="22.5">2</tspan><tspan dy="0.0" font-size="22.5">*</tspan><tspan dy="0.0" font-size="22.5">Li</tspan><tspan dy="5.5" font-size="14.5">2</tspan><tspan dy="-5.5" font-size="22.5">S</tspan><tspan dy="5.5" font-size="14.5">6</tspan><tspan dy="-5.5" font-size="22.5"> + 2Li</tspan><tspan dy="-6.5" font-size="14.5">+</tspan><tspan dy="6.5" font-size="22.5"> +e</tspan><tspan dy="-6.5" font-size="14.5">-</tspan></text>
<text x="1077.2" y="689.8" font-size="22.5"><tspan dy="0.0" font-size="22.5">3</tspan><tspan dy="0.0" font-size="22.5">*</tspan><tspan dy="0.0" font-size="22.5">Li</tspan><tspan dy="5.5" font-size="14.5">2</tspan><tspan dy="-5.5" font-size="22.5">S</tspan><tspan dy="5.5" font-size="14.5">4</tspan></text>
<text x="1003.0" y="959.2" font-size="22.5"><tspan dy="0.0" font-size="22.5">*</tspan><tspan dy="0.0" font-size="22.5">Li</tspan><tspan dy="5.5" font-size="14.5">2</tspan><tspan dy="-5.5" font-size="22.5">S</tspan><tspan dy="5.5" font-size="14.5">4</tspan><tspan dy="-5.5" font-size="22.5"> + 2Li</tspan><tspan dy="-6.5" font-size="14.5">+</tspan><tspan dy="6.5" font-size="22.5"> +2e</tspan><tspan dy="-6.5" font-size="14.5">-</tspan></text>
<text x="819.5" y="1083.4" font-size="22.5"><tspan dy="0.0" font-size="22.5">2</tspan><tspan dy="0.0" font-size="22.5">*</tspan><tspan dy="0.0" font-size="22.5">Li</tspan><tspan dy="5.5" font-size="14.5">2</tspan><tspan dy="-5.5" font-size="22.5">S</tspan><tspan dy="5.5" font-size="14.5">2</tspan></text>
<text x="419.0" y="1121.7" font-size="22.5"><tspan dy="0.0" font-size="22.5">*</tspan><tspan dy="0.0" font-size="22.5">Li</tspan><tspan dy="5.5" font-size="14.5">2</tspan><tspan dy="-5.5" font-size="22.5">S</tspan><tspan dy="5.5" font-size="14.5">2</tspan><tspan dy="-5.5" font-size="22.5"> + 2Li</tspan><tspan dy="-6.5" font-size="14.5">+</tspan><tspan dy="6.5" font-size="22.5"> +2e</tspan><tspan dy="-6.5" font-size="14.5">-</tspan></text>
<text x="261.9" y="1028.1" font-size="22.5"><tspan dy="0.0" font-size="22.5">2</tspan><tspan dy="0.0" font-size="22.5">*</tspan><tspan dy="0.0" font-size="22.5">Li</tspan><tspan dy="5.5" font-size="14.5">2</tspan><tspan dy="-5.5" font-size="22.5">S</tspan></text>
<text x="0.0" y="0.0" font-size="22.5" transform="translate(213.5,317.5) rotate(-62)"><tspan dy="0.0" font-size="22.5">*</tspan><tspan dy="0.0" font-size="22.5">S</tspan><tspan dy="5.5" font-size="14.5">8</tspan><tspan dy="-5.5" font-size="22.5"> + 2Li</tspan><tspan dy="-6.5" font-size="14.5">+</tspan><tspan dy="6.5" font-size="22.5"> +2e</tspan><tspan dy="-6.5" font-size="14.5">-</tspan></text>
<rect x="358.4" y="399.5" width="512.3" height="412.5" fill="none" stroke="#000" stroke-width="2.4"/>
<line x1="349" y1="444.7" x2="358.4" y2="444.7" stroke="#000" stroke-width="2.2"/>
<text x="344.3" y="450.3" font-size="16" text-anchor="end">0</text>
<line x1="349" y1="536.5" x2="358.4" y2="536.5" stroke="#000" stroke-width="2.2"/>
<text x="344.3" y="542.1" font-size="16" text-anchor="end">-1</text>
<line x1="349" y1="628.3" x2="358.4" y2="628.3" stroke="#000" stroke-width="2.2"/>
<text x="344.3" y="633.9" font-size="16" text-anchor="end">-2</text>
<line x1="349" y1="720.1" x2="358.4" y2="720.1" stroke="#000" stroke-width="2.2"/>
<text x="344.3" y="725.7" font-size="16" text-anchor="end">-3</text>
<line x1="349" y1="811.9" x2="358.4" y2="811.9" stroke="#000" stroke-width="2.2"/>
<text x="344.3" y="817.5" font-size="16" text-anchor="end">-4</text>
<text transform="translate(315.5,601.3) rotate(-90)" font-size="20" text-anchor="middle">ΔG(eV)</text>
<text x="619.5" y="842.3" font-size="21.5" text-anchor="middle">Reaction Coordinates</text>
<text x="644.4" y="427.5" font-size="17.7" text-anchor="middle">Sulfur Reduction Reaction</text>
<path d="M400.0 444.7H443.6V744.9H528.7V711.8H614.0V699.9H699.3V631.1H784.7V590.7H828.6" fill="none" stroke="#111111" stroke-width="2.2"/>
<path d="M400.0 444.7H443.6V719.2H528.7V736.6H614.0V696.2H699.3V639.8H784.7V609.0H828.6" fill="none" stroke="#d42f2f" stroke-width="2.2"/>
<path d="M400.0 444.7H443.6V744.0H528.7V721.0H614.0V695.3H699.3V656.8H784.7V623.7H828.6" fill="none" stroke="#2222b0" stroke-width="2.2"/>
<path d="M400.0 444.7H443.6V699.0H528.7V709.1H614.0V676.0H699.3V641.2H784.7V598.9H828.6" fill="none" stroke="#d844d8" stroke-width="2.2"/>
<path d="M400.0 444.7H443.6V694.4H528.7V698.1H614.0V668.7H699.3V631.1H784.7V576.0H828.6" fill="none" stroke="#2a7a2a" stroke-width="2.2"/>
<path d="M400.0 444.7H443.6V721.0H528.7V722.9H614.0V706.3H699.3V660.4H784.7V624.6H828.6" fill="none" stroke="#161668" stroke-width="2.2"/>
<text x="435.5" y="533.3" font-size="15.3" text-anchor="end" style="fill:#111111;stroke:#111111">-3.27</text>
<text x="435.5" y="560.3" font-size="15.3" text-anchor="end" style="fill:#d42f2f;stroke:#d42f2f">-2.99</text>
<text x="435.5" y="587.3" font-size="15.3" text-anchor="end" style="fill:#2222b0;stroke:#2222b0">-3.26</text>
<text x="435.5" y="614.3" font-size="15.3" text-anchor="end" style="fill:#d844d8;stroke:#d844d8">-2.77</text>
<text x="435.5" y="641.3" font-size="15.3" text-anchor="end" style="fill:#2a7a2a;stroke:#2a7a2a">-2.72</text>
<text x="435.5" y="668.3" font-size="15.3" text-anchor="end" style="fill:#161668;stroke:#161668">-3.01</text>
<text x="583.7" y="545.0" font-size="15.3" text-anchor="end" style="fill:#111111;stroke:#111111">0.36</text>
<text x="583.7" y="572.0" font-size="15.3" text-anchor="end" style="fill:#d42f2f;stroke:#d42f2f">-0.19</text>
<text x="583.7" y="599.0" font-size="15.3" text-anchor="end" style="fill:#2222b0;stroke:#2222b0">0.25</text>
<text x="583.7" y="626.0" font-size="15.3" text-anchor="end" style="fill:#d844d8;stroke:#d844d8">-0.11</text>
<text x="583.7" y="653.0" font-size="15.3" text-anchor="end" style="fill:#2a7a2a;stroke:#2a7a2a">-0.04</text>
<text x="583.7" y="680.0" font-size="15.3" text-anchor="end" style="fill:#161668;stroke:#161668">-0.02</text>
<text x="670.7" y="520.8" font-size="15.3" text-anchor="end" style="fill:#111111;stroke:#111111">0.13</text>
<text x="670.7" y="547.8" font-size="15.3" text-anchor="end" style="fill:#d42f2f;stroke:#d42f2f">0.44</text>
<text x="670.7" y="574.8" font-size="15.3" text-anchor="end" style="fill:#2222b0;stroke:#2222b0">0.28</text>
<text x="670.7" y="601.8" font-size="15.3" text-anchor="end" style="fill:#d844d8;stroke:#d844d8">0.36</text>
<text x="670.7" y="628.8" font-size="15.3" text-anchor="end" style="fill:#2a7a2a;stroke:#2a7a2a">0.32</text>
<text x="670.7" y="655.8" font-size="15.3" text-anchor="end" style="fill:#161668;stroke:#161668">0.18</text>
<text x="753.2" y="483.3" font-size="15.3" text-anchor="end" style="fill:#111111;stroke:#111111">0.75</text>
<text x="753.2" y="510.3" font-size="15.3" text-anchor="end" style="fill:#d42f2f;stroke:#d42f2f">0.64</text>
<text x="753.2" y="537.3" font-size="15.3" text-anchor="end" style="fill:#2222b0;stroke:#2222b0">0.42</text>
<text x="753.2" y="564.3" font-size="15.3" text-anchor="end" style="fill:#d844d8;stroke:#d844d8">0.38</text>
<text x="753.2" y="591.3" font-size="15.3" text-anchor="end" style="fill:#2a7a2a;stroke:#2a7a2a">0.41</text>
<text x="753.2" y="618.3" font-size="15.3" text-anchor="end" style="fill:#161668;stroke:#161668">0.50</text>
<text x="820.5" y="425.5" font-size="15.3" text-anchor="end" style="fill:#111111;stroke:#111111">0.44</text>
<text x="820.5" y="452.5" font-size="15.3" text-anchor="end" style="fill:#d42f2f;stroke:#d42f2f">0.31</text>
<text x="820.5" y="479.5" font-size="15.3" text-anchor="end" style="fill:#2222b0;stroke:#2222b0">0.36</text>
<text x="820.5" y="506.5" font-size="15.3" text-anchor="end" style="fill:#d844d8;stroke:#d844d8">0.46</text>
<text x="820.5" y="533.5" font-size="15.3" text-anchor="end" style="fill:#2a7a2a;stroke:#2a7a2a">0.60</text>
<text x="820.5" y="560.5" font-size="15.3" text-anchor="end" style="fill:#161668;stroke:#161668">0.39</text>
<text x="762.3" y="680.1" font-size="13.5" style="fill:#111111;stroke:#111111;stroke-width:0.2px" textLength="96.0" lengthAdjust="spacingAndGlyphs">(N<tspan dy="5" font-size="11.5">3</tspan><tspan dy="-5">)Fe-Fe(N</tspan><tspan dy="5" font-size="11.5">3</tspan><tspan dy="-5">)</tspan></text>
<text x="762.3" y="704.6" font-size="13.5" style="fill:#d42f2f;stroke:#d42f2f;stroke-width:0.2px" textLength="97.5" lengthAdjust="spacingAndGlyphs">(N<tspan dy="5" font-size="11.5">3</tspan><tspan dy="-5">)Fe-Co(N</tspan><tspan dy="5" font-size="11.5">3</tspan><tspan dy="-5">)</tspan></text>
<text x="762.3" y="729.1" font-size="13.5" style="fill:#2222b0;stroke:#2222b0;stroke-width:0.2px" textLength="96.0" lengthAdjust="spacingAndGlyphs">(N<tspan dy="5" font-size="11.5">3</tspan><tspan dy="-5">)Fe-Ni(N</tspan><tspan dy="5" font-size="11.5">3</tspan><tspan dy="-5">)</tspan></text>
<text x="762.3" y="753.6" font-size="13.5" style="fill:#d844d8;stroke:#d844d8;stroke-width:0.2px" textLength="97.5" lengthAdjust="spacingAndGlyphs">(N<tspan dy="5" font-size="11.5">3</tspan><tspan dy="-5">)Fe-Cu(N</tspan><tspan dy="5" font-size="11.5">3</tspan><tspan dy="-5">)</tspan></text>
<text x="762.3" y="778.1" font-size="13.5" style="fill:#2a7a2a;stroke:#2a7a2a;stroke-width:0.2px" textLength="101.0" lengthAdjust="spacingAndGlyphs">(N<tspan dy="5" font-size="11.5">3</tspan><tspan dy="-5">)Co-Cu(N</tspan><tspan dy="5" font-size="11.5">3</tspan><tspan dy="-5">)</tspan></text>
<text x="762.3" y="802.6" font-size="13.5" style="fill:#161668;stroke:#161668;stroke-width:0.2px" textLength="96.0" lengthAdjust="spacingAndGlyphs">(N<tspan dy="5" font-size="11.5">3</tspan><tspan dy="-5">)Fe-Pt(N</tspan><tspan dy="5" font-size="11.5">3</tspan><tspan dy="-5">)</tspan></text>
<path d="M415.9 405.6L428.5 408.1M428.5 408.1L434.8 420.2M434.8 420.2L432.2 431.0M432.2 431.0L420.9 439.1M420.9 439.1L408.3 435.3M408.3 435.3L400.8 425.3M400.8 425.3L404.5 411.4M404.5 411.4L415.9 405.6" stroke="#e6e070" stroke-width="2.0" fill="none"/><circle cx="415.9" cy="405.6" r="3.3" fill="url(#gs)"/><circle cx="428.5" cy="408.1" r="3.3" fill="url(#gs)"/><circle cx="434.8" cy="420.2" r="3.3" fill="url(#gs)"/><circle cx="432.2" cy="431.0" r="3.3" fill="url(#gs)"/><circle cx="420.9" cy="439.1" r="3.3" fill="url(#gs)"/><circle cx="408.3" cy="435.3" r="3.3" fill="url(#gs)"/><circle cx="400.8" cy="425.3" r="3.3" fill="url(#gs)"/><circle cx="404.5" cy="411.4" r="3.3" fill="url(#gs)"/>
<path d="M476.3 758.5L487.7 758.5M487.7 758.5L499.0 764.0M499.0 764.0L501.5 778.7M501.5 778.7L496.5 787.5M496.5 787.5L473.8 791.3M473.8 791.3L466.2 780.0M466.2 780.0L466.2 767.4M466.2 767.4L476.3 758.5" stroke="#e6e070" stroke-width="2.0" fill="none"/><circle cx="476.3" cy="758.5" r="3.3" fill="url(#gs)"/><circle cx="487.7" cy="758.5" r="3.3" fill="url(#gs)"/><circle cx="499.0" cy="764.0" r="3.3" fill="url(#gs)"/><circle cx="501.5" cy="778.7" r="3.3" fill="url(#gs)"/><circle cx="496.5" cy="787.5" r="3.3" fill="url(#gs)"/><circle cx="473.8" cy="791.3" r="3.3" fill="url(#gs)"/><circle cx="466.2" cy="780.0" r="3.3" fill="url(#gs)"/><circle cx="466.2" cy="767.4" r="3.3" fill="url(#gs)"/><circle cx="480.1" cy="786.2" r="4.6" fill="url(#gli)"/><circle cx="488.9" cy="787.5" r="4.6" fill="url(#gli)"/>
<path d="M569.5 754.8L583.4 758.5M583.4 758.5L594.7 768.6M594.7 768.6L589.7 786.2M569.5 754.8L556.9 767.4M556.9 767.4L559.4 780.0M559.4 780.0L570.8 783.7M589.7 786.2L580.1 777.4" stroke="#e6e070" stroke-width="2.0" fill="none"/><circle cx="569.5" cy="754.8" r="3.4" fill="url(#gs)"/><circle cx="583.4" cy="758.5" r="3.4" fill="url(#gs)"/><circle cx="594.7" cy="768.6" r="3.4" fill="url(#gs)"/><circle cx="589.7" cy="786.2" r="3.4" fill="url(#gs)"/><circle cx="559.4" cy="780.0" r="3.4" fill="url(#gs)"/><circle cx="556.9" cy="767.4" r="3.4" fill="url(#gs)"/><circle cx="570.8" cy="783.7" r="5.5" fill="url(#gli)"/><circle cx="580.1" cy="777.4" r="5.0" fill="url(#gli)"/>
<path d="M652.9 721.3L677.2 725.7M677.2 725.7L679.4 743.3M652.9 721.3L643.0 743.3M643.0 743.3L668.3 752.1M679.4 743.3L668.3 752.1M652.9 721.3L652.9 738.9M677.2 725.7L652.9 738.9" stroke="#e6e070" stroke-width="2.0" fill="none"/><circle cx="652.9" cy="721.3" r="3.6" fill="url(#gs)"/><circle cx="677.2" cy="725.7" r="3.6" fill="url(#gs)"/><circle cx="679.4" cy="743.3" r="3.6" fill="url(#gs)"/><circle cx="643.0" cy="743.3" r="3.6" fill="url(#gs)"/><circle cx="652.9" cy="738.9" r="5.5" fill="url(#gli)"/><circle cx="668.3" cy="752.1" r="6.5" fill="url(#gli)"/>
<path d="M714.6 682.7L732.1 680.5M732.1 680.5L752.1 677.2M714.6 682.7L736.5 695.6M736.5 695.6L752.1 677.2M732.1 680.5L736.5 695.6" stroke="#e6e070" stroke-width="2.0" fill="none"/><circle cx="732.1" cy="680.5" r="4.6" fill="url(#gs)"/><circle cx="736.5" cy="695.6" r="4.6" fill="url(#gs)"/><circle cx="715.7" cy="681.7" r="6.9" fill="url(#gli)"/><circle cx="752.9" cy="677.3" r="6.9" fill="url(#gli)"/>
<path d="M802.0 650.9L821.5 637.8M821.5 637.8L842.3 650.2" stroke="#e6e070" stroke-width="2.0" fill="none"/><circle cx="821.5" cy="637.8" r="5.0" fill="url(#gs)"/><circle cx="802.0" cy="650.9" r="7.0" fill="url(#gli)"/><circle cx="842.3" cy="650.2" r="7.0" fill="url(#gli)"/>
<text x="386.9" y="424.0" font-size="14" font-weight="normal" text-anchor="middle" style="font-weight:normal">*</text>
<text x="450.4" y="766.0" font-size="14" font-weight="normal" text-anchor="middle" style="font-weight:normal">*</text>
<text x="546.8" y="761.0" font-size="14" font-weight="normal" text-anchor="middle" style="font-weight:normal">*</text>
<text x="628.7" y="730.0" font-size="14" font-weight="normal" text-anchor="middle" style="font-weight:normal">*</text>
<text x="715.7" y="676.0" font-size="14" font-weight="normal" text-anchor="middle" style="font-weight:normal">*</text>
<text x="795.1" y="641.0" font-size="14" font-weight="normal" text-anchor="middle" style="font-weight:normal">*</text>
</svg></body></html>
